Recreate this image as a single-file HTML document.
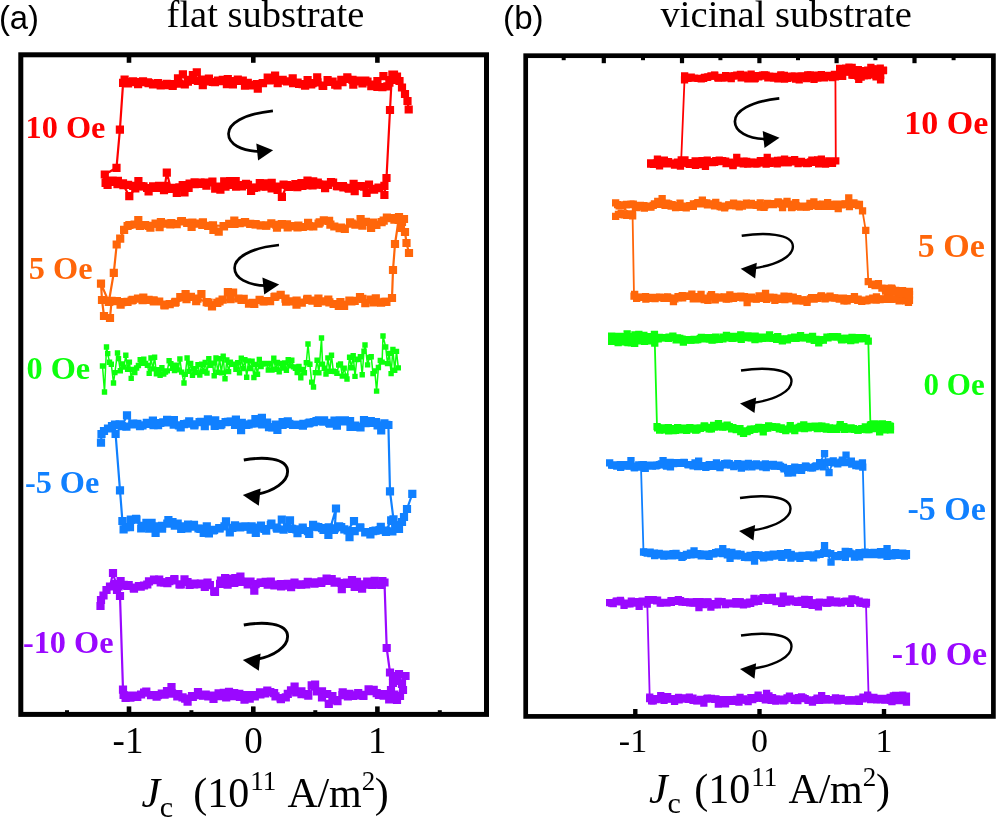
<!DOCTYPE html>
<html lang="en"><head><meta charset="utf-8"><title>Current-induced switching loops: flat vs vicinal substrate</title>
<style>html,body{margin:0;padding:0;background:#fff;}body{width:997px;height:820px;overflow:hidden;}svg{display:block;}text{font-family:"Liberation Serif",serif;fill:#000;}.sans{font-family:"Liberation Sans",sans-serif;}.lab{font-weight:bold;font-size:32.3px;}.labb{font-weight:bold;font-size:34px;}.tick{font-size:37px;}.ttl{font-size:38.5px;}.xl{font-size:42px;}</style></head><body>
<svg width="997" height="820" viewBox="0 0 997 820">
<rect x="0" y="0" width="997" height="820" fill="#fff"/>
<polyline points="408.7,109.5 407.5,101 405,94 402,87.5 399.5,81 397,76.5 394,74.5 392.4,74.7 387.4,86.4 382.4,87.2 377.4,86.8 372.5,84.5 367.5,81.7 362.5,83.5 357.5,81.5 352.5,79.8 347.5,78.8 342.5,82.2 337.5,85.5 332.6,81.5 327.6,80.2 322.6,85.6 317.6,82.4 312.6,83.1 307.6,80.1 302.6,84.2 297.6,82.6 292.7,78.3 287.7,81.3 282.7,79.9 277.7,83.1 272.7,80.2 267.7,77.7 262.7,83.2 257.8,88.7 252.8,84.9 247.8,82.9 242.8,80.5 237.8,79.6 232.8,81 227.8,79.1 222.8,79.8 217.9,80.6 212.9,82 207.9,81.4 202.9,79.7 197.9,81 192.9,75.2 187.9,81.6 182.9,74.4 178,78.4 173,84.2 168,85.2 163,85.1 158,83.1 153,84.5 148,82.4 143,81.4 138.1,84.2 133.1,81.3 128.1,83.3 123.1,82.8 119.9,129.6 116.5,167.8 104.8,174.5 106.5,180.5 107.6,184.8 112.7,180.7 117.9,180.9 123,183.3 128.1,184.9 133.2,185.8 138.4,181 143.5,186.4 148.6,191.5 153.7,188 158.9,188 164,190.2 169.1,188.8 174.2,187.8 179.4,187.4 184.5,192.3 189.6,183.7 194.7,184.1 199.9,183.9 205,182.5 210.1,182.5 215.2,188.6 220.4,189.6 225.5,186.7 230.6,185 235.7,181 240.9,185.2 246,183.9 251.1,190.9 256.3,187.5 261.4,186.3 266.5,183.3 271.6,188.5 276.8,186.6 281.9,196.8 287,185.2 292.1,185.8 297.3,187.1 302.4,186 307.5,180.7 312.6,185.3 317.8,182.5 322.9,184.6 328,184.9 333.1,182.6 338.3,186.1 343.4,187.3 348.5,187.8 353.6,183.9 358.8,186 363.9,186.7 369,184.5 374.1,189.6 379.3,188.1 384.4,195 386.5,178 390,110 391.6,80 389.4,82.7 383.4,76.2 377.4,81.1 371.3,86.2 365.3,80.7 359.3,80.5 353.3,84.7 347.3,77.3 341.3,79.8 335.2,84.6 329.2,81.9 323.2,85.8 317.2,77.4 311.2,84.5 305.1,85.6 299.1,84 293.1,83.1 287.1,81.5 281.1,80.6 275.1,75.5 269,80.3 263,83.1 257,84.1 251,85.5 245,85.6 238.9,81 232.9,84.4 226.9,84.1 220.9,81.2 214.9,82.2 208.9,78.6 202.8,85.1 196.8,72.4 190.8,79.8 184.8,84.3 178.8,83.6 172.7,86 166.7,83.9 160.7,85.5 154.7,83.5 148.7,83.2 142.7,82.1 136.6,82.2 130.6,82 124.6,79.5" fill="none" stroke="#ff0000" stroke-width="2.2" stroke-linejoin="round"/>
<path d="M404.6,105.4h8.2v8.2h-8.2zM403.4,96.9h8.2v8.2h-8.2zM400.9,89.9h8.2v8.2h-8.2zM397.9,83.4h8.2v8.2h-8.2zM395.4,76.9h8.2v8.2h-8.2zM392.9,72.4h8.2v8.2h-8.2zM389.9,70.4h8.2v8.2h-8.2zM388.3,70.6h8.2v8.2h-8.2zM383.3,82.3h8.2v8.2h-8.2zM378.3,83.1h8.2v8.2h-8.2zM373.3,82.7h8.2v8.2h-8.2zM368.4,80.4h8.2v8.2h-8.2zM363.4,77.6h8.2v8.2h-8.2zM358.4,79.4h8.2v8.2h-8.2zM353.4,77.4h8.2v8.2h-8.2zM348.4,75.7h8.2v8.2h-8.2zM343.4,74.7h8.2v8.2h-8.2zM338.4,78.1h8.2v8.2h-8.2zM333.4,81.4h8.2v8.2h-8.2zM328.5,77.4h8.2v8.2h-8.2zM323.5,76.1h8.2v8.2h-8.2zM318.5,81.5h8.2v8.2h-8.2zM313.5,78.3h8.2v8.2h-8.2zM308.5,79h8.2v8.2h-8.2zM303.5,76h8.2v8.2h-8.2zM298.5,80.1h8.2v8.2h-8.2zM293.5,78.5h8.2v8.2h-8.2zM288.6,74.2h8.2v8.2h-8.2zM283.6,77.2h8.2v8.2h-8.2zM278.6,75.8h8.2v8.2h-8.2zM273.6,79h8.2v8.2h-8.2zM268.6,76.1h8.2v8.2h-8.2zM263.6,73.6h8.2v8.2h-8.2zM258.6,79.1h8.2v8.2h-8.2zM253.7,84.6h8.2v8.2h-8.2zM248.7,80.8h8.2v8.2h-8.2zM243.7,78.8h8.2v8.2h-8.2zM238.7,76.4h8.2v8.2h-8.2zM233.7,75.5h8.2v8.2h-8.2zM228.7,76.9h8.2v8.2h-8.2zM223.7,75h8.2v8.2h-8.2zM218.7,75.7h8.2v8.2h-8.2zM213.8,76.5h8.2v8.2h-8.2zM208.8,77.9h8.2v8.2h-8.2zM203.8,77.3h8.2v8.2h-8.2zM198.8,75.6h8.2v8.2h-8.2zM193.8,76.9h8.2v8.2h-8.2zM188.8,71.1h8.2v8.2h-8.2zM183.8,77.5h8.2v8.2h-8.2zM178.8,70.3h8.2v8.2h-8.2zM173.9,74.3h8.2v8.2h-8.2zM168.9,80.1h8.2v8.2h-8.2zM163.9,81.1h8.2v8.2h-8.2zM158.9,81h8.2v8.2h-8.2zM153.9,79h8.2v8.2h-8.2zM148.9,80.4h8.2v8.2h-8.2zM143.9,78.3h8.2v8.2h-8.2zM138.9,77.3h8.2v8.2h-8.2zM134,80.1h8.2v8.2h-8.2zM129,77.2h8.2v8.2h-8.2zM124,79.2h8.2v8.2h-8.2zM119,78.7h8.2v8.2h-8.2zM115.8,125.5h8.2v8.2h-8.2zM112.4,163.7h8.2v8.2h-8.2zM100.7,170.4h8.2v8.2h-8.2zM102.4,176.4h8.2v8.2h-8.2zM103.5,180.7h8.2v8.2h-8.2zM108.6,176.6h8.2v8.2h-8.2zM113.8,176.8h8.2v8.2h-8.2zM118.9,179.2h8.2v8.2h-8.2zM124,180.8h8.2v8.2h-8.2zM129.1,181.7h8.2v8.2h-8.2zM134.3,176.9h8.2v8.2h-8.2zM139.4,182.3h8.2v8.2h-8.2zM144.5,187.4h8.2v8.2h-8.2zM149.6,183.9h8.2v8.2h-8.2zM154.8,183.9h8.2v8.2h-8.2zM159.9,186.1h8.2v8.2h-8.2zM165,184.7h8.2v8.2h-8.2zM170.1,183.7h8.2v8.2h-8.2zM175.3,183.3h8.2v8.2h-8.2zM180.4,188.2h8.2v8.2h-8.2zM185.5,179.6h8.2v8.2h-8.2zM190.6,180h8.2v8.2h-8.2zM195.8,179.8h8.2v8.2h-8.2zM200.9,178.4h8.2v8.2h-8.2zM206,178.4h8.2v8.2h-8.2zM211.1,184.5h8.2v8.2h-8.2zM216.3,185.5h8.2v8.2h-8.2zM221.4,182.6h8.2v8.2h-8.2zM226.5,180.9h8.2v8.2h-8.2zM231.6,176.9h8.2v8.2h-8.2zM236.8,181.1h8.2v8.2h-8.2zM241.9,179.8h8.2v8.2h-8.2zM247,186.8h8.2v8.2h-8.2zM252.2,183.4h8.2v8.2h-8.2zM257.3,182.2h8.2v8.2h-8.2zM262.4,179.2h8.2v8.2h-8.2zM267.5,184.4h8.2v8.2h-8.2zM272.7,182.5h8.2v8.2h-8.2zM277.8,192.7h8.2v8.2h-8.2zM282.9,181.1h8.2v8.2h-8.2zM288,181.7h8.2v8.2h-8.2zM293.2,183h8.2v8.2h-8.2zM298.3,181.9h8.2v8.2h-8.2zM303.4,176.6h8.2v8.2h-8.2zM308.5,181.2h8.2v8.2h-8.2zM313.7,178.4h8.2v8.2h-8.2zM318.8,180.5h8.2v8.2h-8.2zM323.9,180.8h8.2v8.2h-8.2zM329,178.5h8.2v8.2h-8.2zM334.2,182h8.2v8.2h-8.2zM339.3,183.2h8.2v8.2h-8.2zM344.4,183.7h8.2v8.2h-8.2zM349.5,179.8h8.2v8.2h-8.2zM354.7,181.9h8.2v8.2h-8.2zM359.8,182.6h8.2v8.2h-8.2zM364.9,180.4h8.2v8.2h-8.2zM370,185.5h8.2v8.2h-8.2zM375.2,184h8.2v8.2h-8.2zM380.3,190.9h8.2v8.2h-8.2zM382.4,173.9h8.2v8.2h-8.2zM385.9,105.9h8.2v8.2h-8.2zM387.5,75.9h8.2v8.2h-8.2zM385.3,78.6h8.2v8.2h-8.2zM379.3,72.1h8.2v8.2h-8.2zM373.3,77h8.2v8.2h-8.2zM367.2,82.1h8.2v8.2h-8.2zM361.2,76.6h8.2v8.2h-8.2zM355.2,76.4h8.2v8.2h-8.2zM349.2,80.6h8.2v8.2h-8.2zM343.2,73.2h8.2v8.2h-8.2zM337.2,75.7h8.2v8.2h-8.2zM331.1,80.5h8.2v8.2h-8.2zM325.1,77.8h8.2v8.2h-8.2zM319.1,81.7h8.2v8.2h-8.2zM313.1,73.3h8.2v8.2h-8.2zM307.1,80.4h8.2v8.2h-8.2zM301,81.5h8.2v8.2h-8.2zM295,79.9h8.2v8.2h-8.2zM289,79h8.2v8.2h-8.2zM283,77.4h8.2v8.2h-8.2zM277,76.5h8.2v8.2h-8.2zM271,71.4h8.2v8.2h-8.2zM264.9,76.2h8.2v8.2h-8.2zM258.9,79h8.2v8.2h-8.2zM252.9,80h8.2v8.2h-8.2zM246.9,81.4h8.2v8.2h-8.2zM240.9,81.5h8.2v8.2h-8.2zM234.8,76.9h8.2v8.2h-8.2zM228.8,80.3h8.2v8.2h-8.2zM222.8,80h8.2v8.2h-8.2zM216.8,77.1h8.2v8.2h-8.2zM210.8,78.1h8.2v8.2h-8.2zM204.8,74.5h8.2v8.2h-8.2zM198.7,81h8.2v8.2h-8.2zM192.7,68.3h8.2v8.2h-8.2zM186.7,75.7h8.2v8.2h-8.2zM180.7,80.2h8.2v8.2h-8.2zM174.7,79.5h8.2v8.2h-8.2zM168.6,81.9h8.2v8.2h-8.2zM162.6,79.8h8.2v8.2h-8.2zM156.6,81.4h8.2v8.2h-8.2zM150.6,79.4h8.2v8.2h-8.2zM144.6,79.1h8.2v8.2h-8.2zM138.6,78h8.2v8.2h-8.2zM132.5,78.1h8.2v8.2h-8.2zM126.5,77.9h8.2v8.2h-8.2zM120.5,75.4h8.2v8.2h-8.2z" fill="#ff0000"/>
<polyline points="384.4,185.9 378.5,187.7 372.5,188.9 366.6,192.9 360.7,186 354.7,191.2 348.8,188.7 342.9,186.1 336.9,186.1 331,182 325.1,188.1 319.1,184.6 313.2,181.3 307.3,185.1 301.4,183.1 295.4,184.2 289.5,187 283.6,184.7 277.6,189.8 271.7,182.8 265.8,186.7 259.8,183.2 253.9,187.9 248,184.9 242,186.4 236.1,186.6 230.2,181.1 224.2,181.4 218.3,186.6 212.4,181.5 206.4,185.6 200.5,182.5 194.6,182.4 188.6,188 182.7,185.1 176.8,192.9 170.9,188.8 166.8,172.6 164.9,185.9 159,185.9 153.1,186.4 147.1,188 141.2,186.1 135.3,188.4 129.3,196.1 123.4,185.2 117.5,184.1 111.5,181.8 105.6,183" fill="none" stroke="#ff0000" stroke-width="2.2" stroke-linejoin="round"/>
<path d="M380.3,181.8h8.2v8.2h-8.2zM374.4,183.6h8.2v8.2h-8.2zM368.4,184.8h8.2v8.2h-8.2zM362.5,188.8h8.2v8.2h-8.2zM356.6,181.9h8.2v8.2h-8.2zM350.6,187.1h8.2v8.2h-8.2zM344.7,184.6h8.2v8.2h-8.2zM338.8,182h8.2v8.2h-8.2zM332.8,182h8.2v8.2h-8.2zM326.9,177.9h8.2v8.2h-8.2zM321,184h8.2v8.2h-8.2zM315,180.5h8.2v8.2h-8.2zM309.1,177.2h8.2v8.2h-8.2zM303.2,181h8.2v8.2h-8.2zM297.3,179h8.2v8.2h-8.2zM291.3,180.1h8.2v8.2h-8.2zM285.4,182.9h8.2v8.2h-8.2zM279.5,180.6h8.2v8.2h-8.2zM273.5,185.7h8.2v8.2h-8.2zM267.6,178.7h8.2v8.2h-8.2zM261.7,182.6h8.2v8.2h-8.2zM255.7,179.1h8.2v8.2h-8.2zM249.8,183.8h8.2v8.2h-8.2zM243.9,180.8h8.2v8.2h-8.2zM237.9,182.3h8.2v8.2h-8.2zM232,182.5h8.2v8.2h-8.2zM226.1,177h8.2v8.2h-8.2zM220.1,177.3h8.2v8.2h-8.2zM214.2,182.5h8.2v8.2h-8.2zM208.3,177.4h8.2v8.2h-8.2zM202.3,181.5h8.2v8.2h-8.2zM196.4,178.4h8.2v8.2h-8.2zM190.5,178.3h8.2v8.2h-8.2zM184.5,183.9h8.2v8.2h-8.2zM178.6,181h8.2v8.2h-8.2zM172.7,188.8h8.2v8.2h-8.2zM166.8,184.7h8.2v8.2h-8.2zM162.7,168.5h8.2v8.2h-8.2zM160.8,181.8h8.2v8.2h-8.2zM154.9,181.8h8.2v8.2h-8.2zM149,182.3h8.2v8.2h-8.2zM143,183.9h8.2v8.2h-8.2zM137.1,182h8.2v8.2h-8.2zM131.2,184.3h8.2v8.2h-8.2zM125.2,192h8.2v8.2h-8.2zM119.3,181.1h8.2v8.2h-8.2zM113.4,180h8.2v8.2h-8.2zM107.4,177.7h8.2v8.2h-8.2zM101.5,178.9h8.2v8.2h-8.2z" fill="#ff0000"/>
<polyline points="409,253 406.5,243 405,232 402,222 399,217 397.4,218.2 392.1,218.1 386.9,217.6 381.6,222.1 376.4,225 371.1,228 365.9,221.8 360.6,219.2 355.4,224.7 350.1,222.3 344.8,228.8 339.6,228.2 334.3,226.5 329.1,220.9 323.8,220.4 318.6,223.7 313.3,226.3 308.1,222.8 302.8,227 297.5,227.4 292.3,226.1 287,224.3 281.8,224.1 276.5,224.8 271.3,223.4 266,225.7 260.8,225.4 255.5,224.2 250.2,223.9 245,222.3 239.7,223.1 234.5,223.8 229.2,223.8 224,226.3 218.7,231.7 213.4,229.8 208.2,225.9 202.9,222.3 197.7,223.7 192.4,222.6 187.2,222.8 181.9,221 176.7,224.2 171.4,223 166.1,223.6 160.9,222 155.6,223.6 150.4,227.7 145.1,225.1 139.9,225.9 134.6,224.5 129.4,225 124.1,229.8 120.2,238.7 116.7,244.5 113.8,272.8 108.8,302 101,283.6 102,300 104,316 110,318 111.6,300.9 116.9,301.1 122.2,302.1 127.5,301.9 132.7,299.9 138,298.6 143.3,297.7 148.6,299.8 153.9,301.3 159.2,301.5 164.4,304.7 169.7,304.2 175,302.7 180.3,297 185.6,294.1 190.9,296.8 196.2,301.2 201.4,294.2 206.7,302.2 212,306.4 217.3,302.8 222.6,299.6 227.9,292.1 233.1,292.5 238.4,298.5 243.7,298.9 249,303.6 254.3,303.8 259.6,299.8 264.9,301.1 270.1,301.1 275.4,296.5 280.7,294.9 286,301.7 291.3,301.3 296.6,300.6 301.8,302.6 307.1,299.9 312.4,300.6 317.7,303 323,301.4 328.3,299.5 333.6,304 338.8,305.9 344.1,305.8 349.4,300.5 354.7,300.9 360,297.1 365.3,303.1 370.5,299.7 375.8,298.3 381.1,302.7 386.4,301.9 392,298 393,270 395,244 398.6,220 401,228 404,219" fill="none" stroke="#ff660a" stroke-width="2.2" stroke-linejoin="round"/>
<path d="M404.9,248.9h8.2v8.2h-8.2zM402.4,238.9h8.2v8.2h-8.2zM400.9,227.9h8.2v8.2h-8.2zM397.9,217.9h8.2v8.2h-8.2zM394.9,212.9h8.2v8.2h-8.2zM393.3,214.1h8.2v8.2h-8.2zM388,214h8.2v8.2h-8.2zM382.8,213.5h8.2v8.2h-8.2zM377.5,218h8.2v8.2h-8.2zM372.3,220.9h8.2v8.2h-8.2zM367,223.9h8.2v8.2h-8.2zM361.8,217.7h8.2v8.2h-8.2zM356.5,215.1h8.2v8.2h-8.2zM351.3,220.6h8.2v8.2h-8.2zM346,218.2h8.2v8.2h-8.2zM340.7,224.7h8.2v8.2h-8.2zM335.5,224.1h8.2v8.2h-8.2zM330.2,222.4h8.2v8.2h-8.2zM325,216.8h8.2v8.2h-8.2zM319.7,216.3h8.2v8.2h-8.2zM314.5,219.6h8.2v8.2h-8.2zM309.2,222.2h8.2v8.2h-8.2zM304,218.7h8.2v8.2h-8.2zM298.7,222.9h8.2v8.2h-8.2zM293.4,223.3h8.2v8.2h-8.2zM288.2,222h8.2v8.2h-8.2zM282.9,220.2h8.2v8.2h-8.2zM277.7,220h8.2v8.2h-8.2zM272.4,220.7h8.2v8.2h-8.2zM267.2,219.3h8.2v8.2h-8.2zM261.9,221.6h8.2v8.2h-8.2zM256.6,221.3h8.2v8.2h-8.2zM251.4,220.1h8.2v8.2h-8.2zM246.1,219.8h8.2v8.2h-8.2zM240.9,218.2h8.2v8.2h-8.2zM235.6,219h8.2v8.2h-8.2zM230.4,219.7h8.2v8.2h-8.2zM225.1,219.7h8.2v8.2h-8.2zM219.9,222.2h8.2v8.2h-8.2zM214.6,227.6h8.2v8.2h-8.2zM209.3,225.7h8.2v8.2h-8.2zM204.1,221.8h8.2v8.2h-8.2zM198.8,218.2h8.2v8.2h-8.2zM193.6,219.6h8.2v8.2h-8.2zM188.3,218.5h8.2v8.2h-8.2zM183.1,218.7h8.2v8.2h-8.2zM177.8,216.9h8.2v8.2h-8.2zM172.6,220.1h8.2v8.2h-8.2zM167.3,218.9h8.2v8.2h-8.2zM162,219.5h8.2v8.2h-8.2zM156.8,217.9h8.2v8.2h-8.2zM151.5,219.5h8.2v8.2h-8.2zM146.3,223.6h8.2v8.2h-8.2zM141,221h8.2v8.2h-8.2zM135.8,221.8h8.2v8.2h-8.2zM130.5,220.4h8.2v8.2h-8.2zM125.3,220.9h8.2v8.2h-8.2zM120,225.7h8.2v8.2h-8.2zM116.1,234.6h8.2v8.2h-8.2zM112.6,240.4h8.2v8.2h-8.2zM109.7,268.7h8.2v8.2h-8.2zM104.7,297.9h8.2v8.2h-8.2zM96.9,279.5h8.2v8.2h-8.2zM97.9,295.9h8.2v8.2h-8.2zM99.9,311.9h8.2v8.2h-8.2zM105.9,313.9h8.2v8.2h-8.2zM107.5,296.8h8.2v8.2h-8.2zM112.8,297h8.2v8.2h-8.2zM118.1,298h8.2v8.2h-8.2zM123.4,297.8h8.2v8.2h-8.2zM128.6,295.8h8.2v8.2h-8.2zM133.9,294.5h8.2v8.2h-8.2zM139.2,293.6h8.2v8.2h-8.2zM144.5,295.7h8.2v8.2h-8.2zM149.8,297.2h8.2v8.2h-8.2zM155.1,297.4h8.2v8.2h-8.2zM160.3,300.6h8.2v8.2h-8.2zM165.6,300.1h8.2v8.2h-8.2zM170.9,298.6h8.2v8.2h-8.2zM176.2,292.9h8.2v8.2h-8.2zM181.5,290h8.2v8.2h-8.2zM186.8,292.7h8.2v8.2h-8.2zM192.1,297.1h8.2v8.2h-8.2zM197.3,290.1h8.2v8.2h-8.2zM202.6,298.1h8.2v8.2h-8.2zM207.9,302.3h8.2v8.2h-8.2zM213.2,298.7h8.2v8.2h-8.2zM218.5,295.5h8.2v8.2h-8.2zM223.8,288h8.2v8.2h-8.2zM229,288.4h8.2v8.2h-8.2zM234.3,294.4h8.2v8.2h-8.2zM239.6,294.8h8.2v8.2h-8.2zM244.9,299.5h8.2v8.2h-8.2zM250.2,299.7h8.2v8.2h-8.2zM255.5,295.7h8.2v8.2h-8.2zM260.8,297h8.2v8.2h-8.2zM266,297h8.2v8.2h-8.2zM271.3,292.4h8.2v8.2h-8.2zM276.6,290.8h8.2v8.2h-8.2zM281.9,297.6h8.2v8.2h-8.2zM287.2,297.2h8.2v8.2h-8.2zM292.5,296.5h8.2v8.2h-8.2zM297.7,298.5h8.2v8.2h-8.2zM303,295.8h8.2v8.2h-8.2zM308.3,296.5h8.2v8.2h-8.2zM313.6,298.9h8.2v8.2h-8.2zM318.9,297.3h8.2v8.2h-8.2zM324.2,295.4h8.2v8.2h-8.2zM329.5,299.9h8.2v8.2h-8.2zM334.7,301.8h8.2v8.2h-8.2zM340,301.7h8.2v8.2h-8.2zM345.3,296.4h8.2v8.2h-8.2zM350.6,296.8h8.2v8.2h-8.2zM355.9,293h8.2v8.2h-8.2zM361.2,299h8.2v8.2h-8.2zM366.4,295.6h8.2v8.2h-8.2zM371.7,294.2h8.2v8.2h-8.2zM377,298.6h8.2v8.2h-8.2zM382.3,297.8h8.2v8.2h-8.2zM387.9,293.9h8.2v8.2h-8.2zM388.9,265.9h8.2v8.2h-8.2zM390.9,239.9h8.2v8.2h-8.2zM394.5,215.9h8.2v8.2h-8.2zM396.9,223.9h8.2v8.2h-8.2zM399.9,214.9h8.2v8.2h-8.2z" fill="#ff660a"/>
<polyline points="394.4,219.7 383.7,220.6 373.1,222.5 362.4,225.7 351.7,223.6 341,227.5 330.4,224.7 319.7,222.4 309,226.2 298.4,225.7 287.7,227.4 277,227.7 266.3,225.5 255.7,224.5 245,222.2 234.3,220.6 223.6,226 213,225.3 202.3,224.9 191.6,226.9 181,221.4 170.3,224.4 159.6,227.1 148.9,225.9 138.3,220.2 127.6,226" fill="none" stroke="#ff660a" stroke-width="2.2" stroke-linejoin="round"/>
<path d="M390.3,215.6h8.2v8.2h-8.2zM379.6,216.5h8.2v8.2h-8.2zM369,218.4h8.2v8.2h-8.2zM358.3,221.6h8.2v8.2h-8.2zM347.6,219.5h8.2v8.2h-8.2zM336.9,223.4h8.2v8.2h-8.2zM326.3,220.6h8.2v8.2h-8.2zM315.6,218.3h8.2v8.2h-8.2zM304.9,222.1h8.2v8.2h-8.2zM294.3,221.6h8.2v8.2h-8.2zM283.6,223.3h8.2v8.2h-8.2zM272.9,223.6h8.2v8.2h-8.2zM262.2,221.4h8.2v8.2h-8.2zM251.6,220.4h8.2v8.2h-8.2zM240.9,218.1h8.2v8.2h-8.2zM230.2,216.5h8.2v8.2h-8.2zM219.5,221.9h8.2v8.2h-8.2zM208.9,221.2h8.2v8.2h-8.2zM198.2,220.8h8.2v8.2h-8.2zM187.5,222.8h8.2v8.2h-8.2zM176.9,217.3h8.2v8.2h-8.2zM166.2,220.3h8.2v8.2h-8.2zM155.5,223h8.2v8.2h-8.2zM144.8,221.8h8.2v8.2h-8.2zM134.2,216.1h8.2v8.2h-8.2zM123.5,221.9h8.2v8.2h-8.2z" fill="#ff660a"/>
<polyline points="384.4,301.8 373.4,302.3 362.4,298.9 351.4,301.4 340.4,302.2 329.4,302.3 318.4,298.5 307.5,298.8 296.5,304.6 285.5,298.6 274.5,297 263.5,301.4 252.5,302.8 241.5,300 230.5,299.2 219.5,301.5 208.5,302.6 197.5,298.7 186.5,299.2 175.6,301.9 164.6,305.3 153.6,300.4 142.6,300.2 131.6,300.5 120.6,304.7 109.6,301.4" fill="none" stroke="#ff660a" stroke-width="2.2" stroke-linejoin="round"/>
<path d="M380.3,297.7h8.2v8.2h-8.2zM369.3,298.2h8.2v8.2h-8.2zM358.3,294.8h8.2v8.2h-8.2zM347.3,297.3h8.2v8.2h-8.2zM336.3,298.1h8.2v8.2h-8.2zM325.3,298.2h8.2v8.2h-8.2zM314.3,294.4h8.2v8.2h-8.2zM303.4,294.7h8.2v8.2h-8.2zM292.4,300.5h8.2v8.2h-8.2zM281.4,294.5h8.2v8.2h-8.2zM270.4,292.9h8.2v8.2h-8.2zM259.4,297.3h8.2v8.2h-8.2zM248.4,298.7h8.2v8.2h-8.2zM237.4,295.9h8.2v8.2h-8.2zM226.4,295.1h8.2v8.2h-8.2zM215.4,297.4h8.2v8.2h-8.2zM204.4,298.5h8.2v8.2h-8.2zM193.4,294.6h8.2v8.2h-8.2zM182.4,295.1h8.2v8.2h-8.2zM171.5,297.8h8.2v8.2h-8.2zM160.5,301.2h8.2v8.2h-8.2zM149.5,296.3h8.2v8.2h-8.2zM138.5,296.1h8.2v8.2h-8.2zM127.5,296.4h8.2v8.2h-8.2zM116.5,300.6h8.2v8.2h-8.2zM105.5,297.3h8.2v8.2h-8.2z" fill="#ff660a"/>
<polyline points="102.5,366 104.5,392 106.5,347 107.7,353.6 109.5,362.2 111.3,364.3 113.5,383 114.9,372.6 117.5,353 118.5,358.6 120.3,370.7 122.2,363.9 124,367.1 125.8,355.2 127.6,369.4 129.4,362.1 131.2,378.4 133,369.4 134.8,372.5 136.6,368 138.4,365.5 140.2,359.6 142,363.3 143.8,359.2 145.6,363.4 147.4,365.4 149.2,373.4 151,358 152.8,368.9 154.6,357.2 156.4,373.7 158.3,369.8 160.1,375.4 161.9,367.6 163.7,374 165.5,372.1 167.3,370.9 169.1,360.8 170.9,363.6 172.7,368.3 174.5,370.6 176.3,365.1 178.1,369.9 179.9,359 181.7,372.1 184,383 185.3,374.4 187.1,358 188.9,371.4 190.7,363.4 192.5,375.2 194.3,368.6 196.2,372.6 198,364.6 199.8,375.1 201.6,364.2 203.4,371.5 205.2,362.5 207,373.1 208.8,358.6 210.6,365.3 212.4,363.1 214.2,375.8 216,357.9 217.8,372.2 219.6,358.8 221.4,372.9 223.2,356.3 225,378.7 226.8,360 228.6,371.6 230.4,362.2 232.3,364.3 234.1,364.3 235.9,369.3 237.7,362.8 239.5,372.7 241.3,358.1 243.1,368.5 244.9,359.7 246.7,377.2 248.5,360.9 250.3,368.6 252.1,361.1 253.9,377.5 255.7,364.4 257.5,374.3 259.3,359.5 261.1,366.5 262.9,364.1 264.7,363.5 266.5,363.8 268.3,370 270.2,363.5 272,370.1 273.8,358.2 275.6,369.3 277.4,362.4 279.2,371.7 281,363.5 282.8,368.1 284.6,362.9 286.4,370.4 288.2,359.8 290,365.9 291.8,360.2 293.6,366.9 295.4,368.2 297.2,372.5 299,366.4 300.8,377.9 302.6,369.5 304.4,372.8 306.3,362.8 308,344 309.9,364.2 311.7,382.1 313.5,387 315.3,372.6 317.1,360.2 318.9,372.9 321.5,338 322.5,364.1 324.3,368.2 326,374 327.9,357.9 329.7,371.3 331.5,355.2 333.3,371.3 335.1,371.6 336.9,373.3 338.7,365.1 340.5,363.9 342.3,376.1 344.2,368.1 346,376.1 347,379 349.6,357.2 351.4,367.7 353.2,355.6 355,376.4 356.8,359.5 358.6,359.2 360.4,356.7 362.2,374.7 364,351.3 365,345 367.6,364.9 369.4,357.4 371.2,356.7 373,373.6 374.8,371 376.6,391.1 378.4,367.5 380.3,360.4 382.1,362.1 383,336 385.7,347 387.5,363.6 389.3,353.4 391.1,373.6 392.9,349.5 394.7,370.3 396.5,351.4 398.3,367.9" fill="none" stroke="#0cff0c" stroke-width="1.5" stroke-linejoin="round"/>
<path d="M99.8,363.3h5.4v5.4h-5.4zM101.8,389.3h5.4v5.4h-5.4zM103.8,344.3h5.4v5.4h-5.4zM105,350.9h5.4v5.4h-5.4zM106.8,359.5h5.4v5.4h-5.4zM108.6,361.6h5.4v5.4h-5.4zM110.8,380.3h5.4v5.4h-5.4zM112.2,369.9h5.4v5.4h-5.4zM114.8,350.3h5.4v5.4h-5.4zM115.8,355.9h5.4v5.4h-5.4zM117.6,368h5.4v5.4h-5.4zM119.5,361.2h5.4v5.4h-5.4zM121.3,364.4h5.4v5.4h-5.4zM123.1,352.5h5.4v5.4h-5.4zM124.9,366.7h5.4v5.4h-5.4zM126.7,359.4h5.4v5.4h-5.4zM128.5,375.7h5.4v5.4h-5.4zM130.3,366.7h5.4v5.4h-5.4zM132.1,369.8h5.4v5.4h-5.4zM133.9,365.3h5.4v5.4h-5.4zM135.7,362.8h5.4v5.4h-5.4zM137.5,356.9h5.4v5.4h-5.4zM139.3,360.6h5.4v5.4h-5.4zM141.1,356.5h5.4v5.4h-5.4zM142.9,360.7h5.4v5.4h-5.4zM144.7,362.7h5.4v5.4h-5.4zM146.5,370.7h5.4v5.4h-5.4zM148.3,355.3h5.4v5.4h-5.4zM150.1,366.2h5.4v5.4h-5.4zM151.9,354.5h5.4v5.4h-5.4zM153.7,371h5.4v5.4h-5.4zM155.6,367.1h5.4v5.4h-5.4zM157.4,372.7h5.4v5.4h-5.4zM159.2,364.9h5.4v5.4h-5.4zM161,371.3h5.4v5.4h-5.4zM162.8,369.4h5.4v5.4h-5.4zM164.6,368.2h5.4v5.4h-5.4zM166.4,358.1h5.4v5.4h-5.4zM168.2,360.9h5.4v5.4h-5.4zM170,365.6h5.4v5.4h-5.4zM171.8,367.9h5.4v5.4h-5.4zM173.6,362.4h5.4v5.4h-5.4zM175.4,367.2h5.4v5.4h-5.4zM177.2,356.3h5.4v5.4h-5.4zM179,369.4h5.4v5.4h-5.4zM181.3,380.3h5.4v5.4h-5.4zM182.6,371.7h5.4v5.4h-5.4zM184.4,355.3h5.4v5.4h-5.4zM186.2,368.7h5.4v5.4h-5.4zM188,360.7h5.4v5.4h-5.4zM189.8,372.5h5.4v5.4h-5.4zM191.6,365.9h5.4v5.4h-5.4zM193.5,369.9h5.4v5.4h-5.4zM195.3,361.9h5.4v5.4h-5.4zM197.1,372.4h5.4v5.4h-5.4zM198.9,361.5h5.4v5.4h-5.4zM200.7,368.8h5.4v5.4h-5.4zM202.5,359.8h5.4v5.4h-5.4zM204.3,370.4h5.4v5.4h-5.4zM206.1,355.9h5.4v5.4h-5.4zM207.9,362.6h5.4v5.4h-5.4zM209.7,360.4h5.4v5.4h-5.4zM211.5,373.1h5.4v5.4h-5.4zM213.3,355.2h5.4v5.4h-5.4zM215.1,369.5h5.4v5.4h-5.4zM216.9,356.1h5.4v5.4h-5.4zM218.7,370.2h5.4v5.4h-5.4zM220.5,353.6h5.4v5.4h-5.4zM222.3,376h5.4v5.4h-5.4zM224.1,357.3h5.4v5.4h-5.4zM225.9,368.9h5.4v5.4h-5.4zM227.7,359.5h5.4v5.4h-5.4zM229.6,361.6h5.4v5.4h-5.4zM231.4,361.6h5.4v5.4h-5.4zM233.2,366.6h5.4v5.4h-5.4zM235,360.1h5.4v5.4h-5.4zM236.8,370h5.4v5.4h-5.4zM238.6,355.4h5.4v5.4h-5.4zM240.4,365.8h5.4v5.4h-5.4zM242.2,357h5.4v5.4h-5.4zM244,374.5h5.4v5.4h-5.4zM245.8,358.2h5.4v5.4h-5.4zM247.6,365.9h5.4v5.4h-5.4zM249.4,358.4h5.4v5.4h-5.4zM251.2,374.8h5.4v5.4h-5.4zM253,361.7h5.4v5.4h-5.4zM254.8,371.6h5.4v5.4h-5.4zM256.6,356.8h5.4v5.4h-5.4zM258.4,363.8h5.4v5.4h-5.4zM260.2,361.4h5.4v5.4h-5.4zM262,360.8h5.4v5.4h-5.4zM263.8,361.1h5.4v5.4h-5.4zM265.6,367.3h5.4v5.4h-5.4zM267.5,360.8h5.4v5.4h-5.4zM269.3,367.4h5.4v5.4h-5.4zM271.1,355.5h5.4v5.4h-5.4zM272.9,366.6h5.4v5.4h-5.4zM274.7,359.7h5.4v5.4h-5.4zM276.5,369h5.4v5.4h-5.4zM278.3,360.8h5.4v5.4h-5.4zM280.1,365.4h5.4v5.4h-5.4zM281.9,360.2h5.4v5.4h-5.4zM283.7,367.7h5.4v5.4h-5.4zM285.5,357.1h5.4v5.4h-5.4zM287.3,363.2h5.4v5.4h-5.4zM289.1,357.5h5.4v5.4h-5.4zM290.9,364.2h5.4v5.4h-5.4zM292.7,365.5h5.4v5.4h-5.4zM294.5,369.8h5.4v5.4h-5.4zM296.3,363.7h5.4v5.4h-5.4zM298.1,375.2h5.4v5.4h-5.4zM299.9,366.8h5.4v5.4h-5.4zM301.7,370.1h5.4v5.4h-5.4zM303.6,360.1h5.4v5.4h-5.4zM305.3,341.3h5.4v5.4h-5.4zM307.2,361.5h5.4v5.4h-5.4zM309,379.4h5.4v5.4h-5.4zM310.8,384.3h5.4v5.4h-5.4zM312.6,369.9h5.4v5.4h-5.4zM314.4,357.5h5.4v5.4h-5.4zM316.2,370.2h5.4v5.4h-5.4zM318.8,335.3h5.4v5.4h-5.4zM319.8,361.4h5.4v5.4h-5.4zM321.6,365.5h5.4v5.4h-5.4zM323.3,371.3h5.4v5.4h-5.4zM325.2,355.2h5.4v5.4h-5.4zM327,368.6h5.4v5.4h-5.4zM328.8,352.5h5.4v5.4h-5.4zM330.6,368.6h5.4v5.4h-5.4zM332.4,368.9h5.4v5.4h-5.4zM334.2,370.6h5.4v5.4h-5.4zM336,362.4h5.4v5.4h-5.4zM337.8,361.2h5.4v5.4h-5.4zM339.6,373.4h5.4v5.4h-5.4zM341.5,365.4h5.4v5.4h-5.4zM343.3,373.4h5.4v5.4h-5.4zM344.3,376.3h5.4v5.4h-5.4zM346.9,354.5h5.4v5.4h-5.4zM348.7,365h5.4v5.4h-5.4zM350.5,352.9h5.4v5.4h-5.4zM352.3,373.7h5.4v5.4h-5.4zM354.1,356.8h5.4v5.4h-5.4zM355.9,356.5h5.4v5.4h-5.4zM357.7,354h5.4v5.4h-5.4zM359.5,372h5.4v5.4h-5.4zM361.3,348.6h5.4v5.4h-5.4zM362.3,342.3h5.4v5.4h-5.4zM364.9,362.2h5.4v5.4h-5.4zM366.7,354.7h5.4v5.4h-5.4zM368.5,354h5.4v5.4h-5.4zM370.3,370.9h5.4v5.4h-5.4zM372.1,368.3h5.4v5.4h-5.4zM373.9,388.4h5.4v5.4h-5.4zM375.7,364.8h5.4v5.4h-5.4zM377.6,357.7h5.4v5.4h-5.4zM379.4,359.4h5.4v5.4h-5.4zM380.3,333.3h5.4v5.4h-5.4zM383,344.3h5.4v5.4h-5.4zM384.8,360.9h5.4v5.4h-5.4zM386.6,350.7h5.4v5.4h-5.4zM388.4,370.9h5.4v5.4h-5.4zM390.2,346.8h5.4v5.4h-5.4zM392,367.6h5.4v5.4h-5.4zM393.8,348.7h5.4v5.4h-5.4zM395.6,365.2h5.4v5.4h-5.4z" fill="#0cff0c"/>
<polyline points="101,442.6 101.5,434 104,431 108,428.5 112,426 115,424.5 116.6,425.1 121.8,426.2 127,415.4 132.2,424.3 137.4,423.8 142.5,425.3 147.7,423.8 152.9,420.6 158.1,425.1 163.3,422.4 168.5,422.4 173.7,424.7 178.9,425.3 184,424.2 189.2,421.4 194.4,424.3 199.6,422.2 204.8,426.2 210,421.3 215.2,420.4 220.4,425.2 225.6,422.1 230.7,421.5 235.9,419.7 241.1,430.1 246.3,424.9 251.5,423.6 256.7,423.5 261.9,417.8 267.1,422.6 272.3,427.5 277.4,430 282.6,422.2 287.8,421.4 293,424.9 298.2,424.9 303.4,423.8 308.6,423.4 313.8,422.2 318.9,420.4 324.1,420.4 329.3,422.8 334.5,420.6 339.7,420.3 344.9,420.3 350.1,421 355.3,425.5 360.5,427.4 365.6,423.1 370.8,423 376,422.1 381.2,430.4 386.4,424.9 388.4,425 390,491.4 393.5,519.4 396.4,528.1 391.2,520.4 386,530.6 380.8,526.8 375.6,530.6 370.4,534.5 365.2,532.3 359.9,527.5 354.7,531.2 349.5,537.2 344.3,529.4 339.1,526.3 333.9,529.8 328.7,527.4 323.5,530 318.3,527.2 313.1,524.8 307.9,531.1 302.7,527.6 297.5,533.2 292.2,528.9 287,527.6 281.8,519.7 276.6,527.5 271.4,523.6 266.2,530.6 261,525.5 255.8,533 250.6,529.7 245.4,526.5 240.2,527.4 235,525.4 229.8,532.5 224.5,526.4 219.3,528.2 214.1,529.9 208.9,533.5 203.7,532.8 198.5,528.5 193.3,526.6 188.1,524.5 182.9,526.4 177.7,523.5 172.5,522.2 167.3,523.7 162.1,528.7 156.8,526.4 151.6,522.9 146.4,522.8 141.2,528.5 136,518.9 130.8,519.6 125.6,527.1 122.4,521 120,490.4 115.6,434 112,428" fill="none" stroke="#1080ff" stroke-width="2.2" stroke-linejoin="round"/>
<path d="M96.9,438.5h8.2v8.2h-8.2zM97.4,429.9h8.2v8.2h-8.2zM99.9,426.9h8.2v8.2h-8.2zM103.9,424.4h8.2v8.2h-8.2zM107.9,421.9h8.2v8.2h-8.2zM110.9,420.4h8.2v8.2h-8.2zM112.5,421h8.2v8.2h-8.2zM117.7,422.1h8.2v8.2h-8.2zM122.9,411.3h8.2v8.2h-8.2zM128.1,420.2h8.2v8.2h-8.2zM133.3,419.7h8.2v8.2h-8.2zM138.4,421.2h8.2v8.2h-8.2zM143.6,419.7h8.2v8.2h-8.2zM148.8,416.5h8.2v8.2h-8.2zM154,421h8.2v8.2h-8.2zM159.2,418.3h8.2v8.2h-8.2zM164.4,418.3h8.2v8.2h-8.2zM169.6,420.6h8.2v8.2h-8.2zM174.8,421.2h8.2v8.2h-8.2zM179.9,420.1h8.2v8.2h-8.2zM185.1,417.3h8.2v8.2h-8.2zM190.3,420.2h8.2v8.2h-8.2zM195.5,418.1h8.2v8.2h-8.2zM200.7,422.1h8.2v8.2h-8.2zM205.9,417.2h8.2v8.2h-8.2zM211.1,416.3h8.2v8.2h-8.2zM216.3,421.1h8.2v8.2h-8.2zM221.5,418h8.2v8.2h-8.2zM226.6,417.4h8.2v8.2h-8.2zM231.8,415.6h8.2v8.2h-8.2zM237,426h8.2v8.2h-8.2zM242.2,420.8h8.2v8.2h-8.2zM247.4,419.5h8.2v8.2h-8.2zM252.6,419.4h8.2v8.2h-8.2zM257.8,413.7h8.2v8.2h-8.2zM263,418.5h8.2v8.2h-8.2zM268.2,423.4h8.2v8.2h-8.2zM273.3,425.9h8.2v8.2h-8.2zM278.5,418.1h8.2v8.2h-8.2zM283.7,417.3h8.2v8.2h-8.2zM288.9,420.8h8.2v8.2h-8.2zM294.1,420.8h8.2v8.2h-8.2zM299.3,419.7h8.2v8.2h-8.2zM304.5,419.3h8.2v8.2h-8.2zM309.7,418.1h8.2v8.2h-8.2zM314.8,416.3h8.2v8.2h-8.2zM320,416.3h8.2v8.2h-8.2zM325.2,418.7h8.2v8.2h-8.2zM330.4,416.5h8.2v8.2h-8.2zM335.6,416.2h8.2v8.2h-8.2zM340.8,416.2h8.2v8.2h-8.2zM346,416.9h8.2v8.2h-8.2zM351.2,421.4h8.2v8.2h-8.2zM356.4,423.3h8.2v8.2h-8.2zM361.5,419h8.2v8.2h-8.2zM366.7,418.9h8.2v8.2h-8.2zM371.9,418h8.2v8.2h-8.2zM377.1,426.3h8.2v8.2h-8.2zM382.3,420.8h8.2v8.2h-8.2zM384.3,420.9h8.2v8.2h-8.2zM385.9,487.3h8.2v8.2h-8.2zM389.4,515.3h8.2v8.2h-8.2zM392.3,524h8.2v8.2h-8.2zM387.1,516.3h8.2v8.2h-8.2zM381.9,526.5h8.2v8.2h-8.2zM376.7,522.7h8.2v8.2h-8.2zM371.5,526.5h8.2v8.2h-8.2zM366.3,530.4h8.2v8.2h-8.2zM361.1,528.2h8.2v8.2h-8.2zM355.8,523.4h8.2v8.2h-8.2zM350.6,527.1h8.2v8.2h-8.2zM345.4,533.1h8.2v8.2h-8.2zM340.2,525.3h8.2v8.2h-8.2zM335,522.2h8.2v8.2h-8.2zM329.8,525.7h8.2v8.2h-8.2zM324.6,523.3h8.2v8.2h-8.2zM319.4,525.9h8.2v8.2h-8.2zM314.2,523.1h8.2v8.2h-8.2zM309,520.7h8.2v8.2h-8.2zM303.8,527h8.2v8.2h-8.2zM298.6,523.5h8.2v8.2h-8.2zM293.4,529.1h8.2v8.2h-8.2zM288.1,524.8h8.2v8.2h-8.2zM282.9,523.5h8.2v8.2h-8.2zM277.7,515.6h8.2v8.2h-8.2zM272.5,523.4h8.2v8.2h-8.2zM267.3,519.5h8.2v8.2h-8.2zM262.1,526.5h8.2v8.2h-8.2zM256.9,521.4h8.2v8.2h-8.2zM251.7,528.9h8.2v8.2h-8.2zM246.5,525.6h8.2v8.2h-8.2zM241.3,522.4h8.2v8.2h-8.2zM236.1,523.3h8.2v8.2h-8.2zM230.9,521.3h8.2v8.2h-8.2zM225.7,528.4h8.2v8.2h-8.2zM220.4,522.3h8.2v8.2h-8.2zM215.2,524.1h8.2v8.2h-8.2zM210,525.8h8.2v8.2h-8.2zM204.8,529.4h8.2v8.2h-8.2zM199.6,528.7h8.2v8.2h-8.2zM194.4,524.4h8.2v8.2h-8.2zM189.2,522.5h8.2v8.2h-8.2zM184,520.4h8.2v8.2h-8.2zM178.8,522.3h8.2v8.2h-8.2zM173.6,519.4h8.2v8.2h-8.2zM168.4,518.1h8.2v8.2h-8.2zM163.2,519.6h8.2v8.2h-8.2zM158,524.6h8.2v8.2h-8.2zM152.7,522.3h8.2v8.2h-8.2zM147.5,518.8h8.2v8.2h-8.2zM142.3,518.7h8.2v8.2h-8.2zM137.1,524.4h8.2v8.2h-8.2zM131.9,514.8h8.2v8.2h-8.2zM126.7,515.5h8.2v8.2h-8.2zM121.5,523h8.2v8.2h-8.2zM118.3,516.9h8.2v8.2h-8.2zM115.9,486.3h8.2v8.2h-8.2zM111.5,429.9h8.2v8.2h-8.2zM107.9,423.9h8.2v8.2h-8.2z" fill="#1080ff"/>
<polyline points="119.6,424.4 126.4,426.6 133.2,423.7 140,426.1 146.8,422.9 153.5,425.2 160.3,423 167.1,419.9 173.9,420 180.7,427.3 187.5,423.6 194.3,425.5 201.1,421.9 207.9,419.3 214.7,425.9 221.4,424.2 228.2,421.9 235,425 241.8,422.9 248.6,424.5 255.4,419 262.2,424.5 269,427.2 275.8,424.7 282.6,424.9 289.3,423.9 296.1,424.8 302.9,425.6 309.7,422.7 316.5,421.2 323.3,421.6 330.1,423.7 336.9,425.6 343.7,421.5 350.5,427 357.2,426.9 364,420.2 370.8,421 377.6,425.4 384.4,423.3" fill="none" stroke="#1080ff" stroke-width="2.2" stroke-linejoin="round"/>
<path d="M115.5,420.3h8.2v8.2h-8.2zM122.3,422.5h8.2v8.2h-8.2zM129.1,419.6h8.2v8.2h-8.2zM135.9,422h8.2v8.2h-8.2zM142.7,418.8h8.2v8.2h-8.2zM149.4,421.1h8.2v8.2h-8.2zM156.2,418.9h8.2v8.2h-8.2zM163,415.8h8.2v8.2h-8.2zM169.8,415.9h8.2v8.2h-8.2zM176.6,423.2h8.2v8.2h-8.2zM183.4,419.5h8.2v8.2h-8.2zM190.2,421.4h8.2v8.2h-8.2zM197,417.8h8.2v8.2h-8.2zM203.8,415.2h8.2v8.2h-8.2zM210.6,421.8h8.2v8.2h-8.2zM217.3,420.1h8.2v8.2h-8.2zM224.1,417.8h8.2v8.2h-8.2zM230.9,420.9h8.2v8.2h-8.2zM237.7,418.8h8.2v8.2h-8.2zM244.5,420.4h8.2v8.2h-8.2zM251.3,414.9h8.2v8.2h-8.2zM258.1,420.4h8.2v8.2h-8.2zM264.9,423.1h8.2v8.2h-8.2zM271.7,420.6h8.2v8.2h-8.2zM278.5,420.8h8.2v8.2h-8.2zM285.2,419.8h8.2v8.2h-8.2zM292,420.7h8.2v8.2h-8.2zM298.8,421.5h8.2v8.2h-8.2zM305.6,418.6h8.2v8.2h-8.2zM312.4,417.1h8.2v8.2h-8.2zM319.2,417.5h8.2v8.2h-8.2zM326,419.6h8.2v8.2h-8.2zM332.8,421.5h8.2v8.2h-8.2zM339.6,417.4h8.2v8.2h-8.2zM346.4,422.9h8.2v8.2h-8.2zM353.1,422.8h8.2v8.2h-8.2zM359.9,416.1h8.2v8.2h-8.2zM366.7,416.9h8.2v8.2h-8.2zM373.5,421.3h8.2v8.2h-8.2zM380.3,419.2h8.2v8.2h-8.2z" fill="#1080ff"/>
<polyline points="123.6,529.3 130,527.1 136.4,519.7 142.8,525.8 149.2,528.6 155.6,532.9 162,525.9 168.4,520.1 174.8,525.6 181.2,529 187.6,528.5 194,524.9 200.4,528.9 206.8,526.4 213.2,530.4 219.6,528.3 226,521.3 232.4,527.9 238.8,526.7 245.2,526.6 251.6,526.4 258,527.7 264.4,529 270.8,525.2 277.2,528.6 283.6,529.6 290,520.4 296.4,529.3 302.8,529.9 309.2,533.8 315.6,526.7 322,528.2 328.4,534.8 336,508.5 334.8,528.3 341.2,527.2 347.6,530.5 354,521.2 360.4,527.5 366.8,532 373.2,531.2 379.6,530.2 386,531.8 392.4,531.3 392,521 396,525 399,529 402,522 404,517 407,509 412.3,493.8" fill="none" stroke="#1080ff" stroke-width="2.2" stroke-linejoin="round"/>
<path d="M119.5,525.2h8.2v8.2h-8.2zM125.9,523h8.2v8.2h-8.2zM132.3,515.6h8.2v8.2h-8.2zM138.7,521.7h8.2v8.2h-8.2zM145.1,524.5h8.2v8.2h-8.2zM151.5,528.8h8.2v8.2h-8.2zM157.9,521.8h8.2v8.2h-8.2zM164.3,516h8.2v8.2h-8.2zM170.7,521.5h8.2v8.2h-8.2zM177.1,524.9h8.2v8.2h-8.2zM183.5,524.4h8.2v8.2h-8.2zM189.9,520.8h8.2v8.2h-8.2zM196.3,524.8h8.2v8.2h-8.2zM202.7,522.3h8.2v8.2h-8.2zM209.1,526.3h8.2v8.2h-8.2zM215.5,524.2h8.2v8.2h-8.2zM221.9,517.2h8.2v8.2h-8.2zM228.3,523.8h8.2v8.2h-8.2zM234.7,522.6h8.2v8.2h-8.2zM241.1,522.5h8.2v8.2h-8.2zM247.5,522.3h8.2v8.2h-8.2zM253.9,523.6h8.2v8.2h-8.2zM260.3,524.9h8.2v8.2h-8.2zM266.7,521.1h8.2v8.2h-8.2zM273.1,524.5h8.2v8.2h-8.2zM279.5,525.5h8.2v8.2h-8.2zM285.9,516.3h8.2v8.2h-8.2zM292.3,525.2h8.2v8.2h-8.2zM298.7,525.8h8.2v8.2h-8.2zM305.1,529.7h8.2v8.2h-8.2zM311.5,522.6h8.2v8.2h-8.2zM317.9,524.1h8.2v8.2h-8.2zM324.3,530.7h8.2v8.2h-8.2zM331.9,504.4h8.2v8.2h-8.2zM330.7,524.2h8.2v8.2h-8.2zM337.1,523.1h8.2v8.2h-8.2zM343.5,526.4h8.2v8.2h-8.2zM349.9,517.1h8.2v8.2h-8.2zM356.3,523.4h8.2v8.2h-8.2zM362.7,527.9h8.2v8.2h-8.2zM369.1,527.1h8.2v8.2h-8.2zM375.5,526.1h8.2v8.2h-8.2zM381.9,527.7h8.2v8.2h-8.2zM388.3,527.2h8.2v8.2h-8.2zM387.9,516.9h8.2v8.2h-8.2zM391.9,520.9h8.2v8.2h-8.2zM394.9,524.9h8.2v8.2h-8.2zM397.9,517.9h8.2v8.2h-8.2zM399.9,512.9h8.2v8.2h-8.2zM402.9,504.9h8.2v8.2h-8.2zM408.2,489.7h8.2v8.2h-8.2z" fill="#1080ff"/>
<polyline points="100.5,606 101,600 103.5,595.5 106.5,590 110,586.5 113,573 116,584 118.6,586.4 123.7,584.8 128.7,585 133.8,587.7 138.9,586 144,585.5 149,581.3 154.1,580.1 159.2,579.6 164.3,582.3 169.3,581.1 174.4,579.1 179.5,584.5 184.5,579.3 189.6,584.8 194.7,583.6 199.8,584.2 204.8,586.9 209.9,585.2 215,591.8 220.1,583.8 225.1,578.2 230.2,578.9 235.3,578.2 240.4,576.6 245.4,581.6 250.5,581.7 255.6,584.1 260.6,582.7 265.7,581.9 270.8,581.6 275.9,584.5 280.9,584 286,585.7 291.1,587.2 296.2,584.6 301.2,584.5 306.3,584.3 311.4,582.7 316.4,582.3 321.5,581.4 326.6,578.6 331.7,579.2 336.7,581.6 341.8,589.2 346.9,582.7 352,580 357,581.9 362.1,588.6 367.2,581.7 372.3,584.9 377.3,584.7 382.4,581.1 384.5,582.5 386.7,648 390,672.5 393,683 391,690 394.4,694.7 389.2,699.4 384.1,694.2 378.9,694.9 373.7,689.9 368.6,689.4 363.4,695.9 358.2,693.2 353,695.8 347.9,696.3 342.7,692.3 337.5,701.1 332.4,696 327.2,694 322,691.3 316.9,691.3 311.7,685.4 306.5,694.2 301.4,691.3 296.2,692.5 291,690.4 285.8,697.4 280.7,698.1 275.5,696.4 270.3,692.2 265.2,693.4 260,692.3 254.8,696.3 249.7,698.7 244.5,699.6 239.3,693.9 234.2,693 229,691.8 223.8,692.9 218.6,693.3 213.5,698.8 208.3,696.4 203.1,695.6 198,692.2 192.8,696.9 187.6,701.6 182.5,697.4 177.3,696.3 172.1,693.7 167,691.1 161.8,693.6 156.6,696.7 151.4,695 146.3,691.6 141.1,694.5 135.9,695.6 130.8,695.6 125.6,698 123,689.6 120,596 117,590" fill="none" stroke="#9a08ff" stroke-width="2.2" stroke-linejoin="round"/>
<path d="M96.4,601.9h8.2v8.2h-8.2zM96.9,595.9h8.2v8.2h-8.2zM99.4,591.4h8.2v8.2h-8.2zM102.4,585.9h8.2v8.2h-8.2zM105.9,582.4h8.2v8.2h-8.2zM108.9,568.9h8.2v8.2h-8.2zM111.9,579.9h8.2v8.2h-8.2zM114.5,582.3h8.2v8.2h-8.2zM119.6,580.7h8.2v8.2h-8.2zM124.6,580.9h8.2v8.2h-8.2zM129.7,583.6h8.2v8.2h-8.2zM134.8,581.9h8.2v8.2h-8.2zM139.9,581.4h8.2v8.2h-8.2zM144.9,577.2h8.2v8.2h-8.2zM150,576h8.2v8.2h-8.2zM155.1,575.5h8.2v8.2h-8.2zM160.2,578.2h8.2v8.2h-8.2zM165.2,577h8.2v8.2h-8.2zM170.3,575h8.2v8.2h-8.2zM175.4,580.4h8.2v8.2h-8.2zM180.4,575.2h8.2v8.2h-8.2zM185.5,580.7h8.2v8.2h-8.2zM190.6,579.5h8.2v8.2h-8.2zM195.7,580.1h8.2v8.2h-8.2zM200.7,582.8h8.2v8.2h-8.2zM205.8,581.1h8.2v8.2h-8.2zM210.9,587.7h8.2v8.2h-8.2zM216,579.7h8.2v8.2h-8.2zM221,574.1h8.2v8.2h-8.2zM226.1,574.8h8.2v8.2h-8.2zM231.2,574.1h8.2v8.2h-8.2zM236.3,572.5h8.2v8.2h-8.2zM241.3,577.5h8.2v8.2h-8.2zM246.4,577.6h8.2v8.2h-8.2zM251.5,580h8.2v8.2h-8.2zM256.5,578.6h8.2v8.2h-8.2zM261.6,577.8h8.2v8.2h-8.2zM266.7,577.5h8.2v8.2h-8.2zM271.8,580.4h8.2v8.2h-8.2zM276.8,579.9h8.2v8.2h-8.2zM281.9,581.6h8.2v8.2h-8.2zM287,583.1h8.2v8.2h-8.2zM292.1,580.5h8.2v8.2h-8.2zM297.1,580.4h8.2v8.2h-8.2zM302.2,580.2h8.2v8.2h-8.2zM307.3,578.6h8.2v8.2h-8.2zM312.3,578.2h8.2v8.2h-8.2zM317.4,577.3h8.2v8.2h-8.2zM322.5,574.5h8.2v8.2h-8.2zM327.6,575.1h8.2v8.2h-8.2zM332.6,577.5h8.2v8.2h-8.2zM337.7,585.1h8.2v8.2h-8.2zM342.8,578.6h8.2v8.2h-8.2zM347.9,575.9h8.2v8.2h-8.2zM352.9,577.8h8.2v8.2h-8.2zM358,584.5h8.2v8.2h-8.2zM363.1,577.6h8.2v8.2h-8.2zM368.2,580.8h8.2v8.2h-8.2zM373.2,580.6h8.2v8.2h-8.2zM378.3,577h8.2v8.2h-8.2zM380.4,578.4h8.2v8.2h-8.2zM382.6,643.9h8.2v8.2h-8.2zM385.9,668.4h8.2v8.2h-8.2zM388.9,678.9h8.2v8.2h-8.2zM386.9,685.9h8.2v8.2h-8.2zM390.3,690.6h8.2v8.2h-8.2zM385.1,695.3h8.2v8.2h-8.2zM380,690.1h8.2v8.2h-8.2zM374.8,690.8h8.2v8.2h-8.2zM369.6,685.8h8.2v8.2h-8.2zM364.5,685.3h8.2v8.2h-8.2zM359.3,691.8h8.2v8.2h-8.2zM354.1,689.1h8.2v8.2h-8.2zM348.9,691.7h8.2v8.2h-8.2zM343.8,692.2h8.2v8.2h-8.2zM338.6,688.2h8.2v8.2h-8.2zM333.4,697h8.2v8.2h-8.2zM328.3,691.9h8.2v8.2h-8.2zM323.1,689.9h8.2v8.2h-8.2zM317.9,687.2h8.2v8.2h-8.2zM312.8,687.2h8.2v8.2h-8.2zM307.6,681.3h8.2v8.2h-8.2zM302.4,690.1h8.2v8.2h-8.2zM297.3,687.2h8.2v8.2h-8.2zM292.1,688.4h8.2v8.2h-8.2zM286.9,686.3h8.2v8.2h-8.2zM281.7,693.3h8.2v8.2h-8.2zM276.6,694h8.2v8.2h-8.2zM271.4,692.3h8.2v8.2h-8.2zM266.2,688.1h8.2v8.2h-8.2zM261.1,689.3h8.2v8.2h-8.2zM255.9,688.2h8.2v8.2h-8.2zM250.7,692.2h8.2v8.2h-8.2zM245.6,694.6h8.2v8.2h-8.2zM240.4,695.5h8.2v8.2h-8.2zM235.2,689.8h8.2v8.2h-8.2zM230.1,688.9h8.2v8.2h-8.2zM224.9,687.7h8.2v8.2h-8.2zM219.7,688.8h8.2v8.2h-8.2zM214.5,689.2h8.2v8.2h-8.2zM209.4,694.7h8.2v8.2h-8.2zM204.2,692.3h8.2v8.2h-8.2zM199,691.5h8.2v8.2h-8.2zM193.9,688.1h8.2v8.2h-8.2zM188.7,692.8h8.2v8.2h-8.2zM183.5,697.5h8.2v8.2h-8.2zM178.4,693.3h8.2v8.2h-8.2zM173.2,692.2h8.2v8.2h-8.2zM168,689.6h8.2v8.2h-8.2zM162.9,687h8.2v8.2h-8.2zM157.7,689.5h8.2v8.2h-8.2zM152.5,692.6h8.2v8.2h-8.2zM147.3,690.9h8.2v8.2h-8.2zM142.2,687.5h8.2v8.2h-8.2zM137,690.4h8.2v8.2h-8.2zM131.8,691.5h8.2v8.2h-8.2zM126.7,691.5h8.2v8.2h-8.2zM121.5,693.9h8.2v8.2h-8.2zM118.9,685.5h8.2v8.2h-8.2zM115.9,591.9h8.2v8.2h-8.2zM112.9,585.9h8.2v8.2h-8.2z" fill="#9a08ff"/>
<polyline points="120.6,581.2 127.3,585.9 134,588.6 140.7,586.7 147.3,584.5 154,579.6 160.7,582.3 167.4,583.2 174.1,580.3 180.8,584.5 187.5,582 194.2,584.5 200.8,583.6 207.5,582.7 214.2,591.4 220.9,580.7 227.6,584.6 234.3,582.9 241,581.9 247.7,584.4 254.3,590.7 261,582.9 267.7,584.7 274.4,585.3 281.1,586.3 287.8,583.8 294.5,582.6 301.2,584.6 307.8,581.8 314.5,583.7 321.2,583 327.9,580.9 334.6,582.7 341.3,583 348,583.8 354.7,586.8 361.3,584.3 368,584.6 374.7,580.8 381.4,584.9" fill="none" stroke="#9a08ff" stroke-width="2.2" stroke-linejoin="round"/>
<path d="M116.5,577.1h8.2v8.2h-8.2zM123.2,581.8h8.2v8.2h-8.2zM129.9,584.5h8.2v8.2h-8.2zM136.6,582.6h8.2v8.2h-8.2zM143.2,580.4h8.2v8.2h-8.2zM149.9,575.5h8.2v8.2h-8.2zM156.6,578.2h8.2v8.2h-8.2zM163.3,579.1h8.2v8.2h-8.2zM170,576.2h8.2v8.2h-8.2zM176.7,580.4h8.2v8.2h-8.2zM183.4,577.9h8.2v8.2h-8.2zM190.1,580.4h8.2v8.2h-8.2zM196.7,579.5h8.2v8.2h-8.2zM203.4,578.6h8.2v8.2h-8.2zM210.1,587.3h8.2v8.2h-8.2zM216.8,576.6h8.2v8.2h-8.2zM223.5,580.5h8.2v8.2h-8.2zM230.2,578.8h8.2v8.2h-8.2zM236.9,577.8h8.2v8.2h-8.2zM243.6,580.3h8.2v8.2h-8.2zM250.2,586.6h8.2v8.2h-8.2zM256.9,578.8h8.2v8.2h-8.2zM263.6,580.6h8.2v8.2h-8.2zM270.3,581.2h8.2v8.2h-8.2zM277,582.2h8.2v8.2h-8.2zM283.7,579.7h8.2v8.2h-8.2zM290.4,578.5h8.2v8.2h-8.2zM297.1,580.5h8.2v8.2h-8.2zM303.7,577.7h8.2v8.2h-8.2zM310.4,579.6h8.2v8.2h-8.2zM317.1,578.9h8.2v8.2h-8.2zM323.8,576.8h8.2v8.2h-8.2zM330.5,578.6h8.2v8.2h-8.2zM337.2,578.9h8.2v8.2h-8.2zM343.9,579.7h8.2v8.2h-8.2zM350.6,582.7h8.2v8.2h-8.2zM357.2,580.2h8.2v8.2h-8.2zM363.9,580.5h8.2v8.2h-8.2zM370.6,576.7h8.2v8.2h-8.2zM377.3,580.8h8.2v8.2h-8.2z" fill="#9a08ff"/>
<polyline points="123.6,695 130.4,697.7 137.3,697 144.1,692.7 151,695.1 157.8,695.2 164.6,694.7 171.5,687 178.3,694.1 185.2,698.6 192,696.1 198.9,695.1 205.7,694.7 212.5,695.6 219.4,696.1 226.2,697.4 233.1,696.2 239.9,696.9 246.7,695.1 253.6,695.1 260.4,694.5 267.3,690.7 274.1,693.2 280.9,699.1 287.8,693.8 294.6,686.7 301.5,694.1 308.3,695.6 315.1,684.7 322,697.5 328.8,703.9 335.7,700.2 342.5,695.2 349.4,693.9 356.2,695.3 363,694.9 369.9,691.1 376.7,693.2 383.6,695.7 390.4,697.9 393,676 396,681 399,674 402,684 405.5,676 403,690 400,696 397,700 394,697" fill="none" stroke="#9a08ff" stroke-width="2.2" stroke-linejoin="round"/>
<path d="M119.5,690.9h8.2v8.2h-8.2zM126.3,693.6h8.2v8.2h-8.2zM133.2,692.9h8.2v8.2h-8.2zM140,688.6h8.2v8.2h-8.2zM146.9,691h8.2v8.2h-8.2zM153.7,691.1h8.2v8.2h-8.2zM160.5,690.6h8.2v8.2h-8.2zM167.4,682.9h8.2v8.2h-8.2zM174.2,690h8.2v8.2h-8.2zM181.1,694.5h8.2v8.2h-8.2zM187.9,692h8.2v8.2h-8.2zM194.8,691h8.2v8.2h-8.2zM201.6,690.6h8.2v8.2h-8.2zM208.4,691.5h8.2v8.2h-8.2zM215.3,692h8.2v8.2h-8.2zM222.1,693.3h8.2v8.2h-8.2zM229,692.1h8.2v8.2h-8.2zM235.8,692.8h8.2v8.2h-8.2zM242.6,691h8.2v8.2h-8.2zM249.5,691h8.2v8.2h-8.2zM256.3,690.4h8.2v8.2h-8.2zM263.2,686.6h8.2v8.2h-8.2zM270,689.1h8.2v8.2h-8.2zM276.8,695h8.2v8.2h-8.2zM283.7,689.7h8.2v8.2h-8.2zM290.5,682.6h8.2v8.2h-8.2zM297.4,690h8.2v8.2h-8.2zM304.2,691.5h8.2v8.2h-8.2zM311,680.6h8.2v8.2h-8.2zM317.9,693.4h8.2v8.2h-8.2zM324.7,699.8h8.2v8.2h-8.2zM331.6,696.1h8.2v8.2h-8.2zM338.4,691.1h8.2v8.2h-8.2zM345.3,689.8h8.2v8.2h-8.2zM352.1,691.2h8.2v8.2h-8.2zM358.9,690.8h8.2v8.2h-8.2zM365.8,687h8.2v8.2h-8.2zM372.6,689.1h8.2v8.2h-8.2zM379.5,691.6h8.2v8.2h-8.2zM386.3,693.8h8.2v8.2h-8.2zM388.9,671.9h8.2v8.2h-8.2zM391.9,676.9h8.2v8.2h-8.2zM394.9,669.9h8.2v8.2h-8.2zM397.9,679.9h8.2v8.2h-8.2zM401.4,671.9h8.2v8.2h-8.2zM398.9,685.9h8.2v8.2h-8.2zM395.9,691.9h8.2v8.2h-8.2zM392.9,695.9h8.2v8.2h-8.2zM389.9,692.9h8.2v8.2h-8.2z" fill="#9a08ff"/>
<polyline points="883.4,70.1 880.3,68.1 877.1,68.8 874,69.1 870.9,67.4 867.8,70.1 864.6,70.7 861.5,72.5 858.4,69.8 855.2,72 852.1,67.4 849,67 845.9,68 842.7,69.5 839.6,69.7 880.5,80 876,77 870.4,73.7 867.3,75.6 864.2,75.7 861.2,77 858.1,76.4 855,75.3 851.9,75.1 848.8,69.8 845.8,72 842.7,76.4 839.6,74.8 834.4,74.4 831.1,76.5 827.7,75.8 824.4,78 821.1,76.3 817.8,75.3 814.4,75.7 811.1,77.1 807.8,74.9 804.4,77.2 801.1,75.8 797.8,77.6 794.5,76.1 791.1,76.6 787.8,78.3 784.5,75.4 781.1,75.7 777.8,78.9 774.5,77.8 771.2,76.7 767.8,77.9 764.5,74.9 761.2,76.2 757.8,75.6 754.5,79 751.2,74.1 747.8,78.8 744.5,76.9 741.2,77.7 737.9,75.9 734.5,75.9 731.2,78.7 727.9,76.9 724.5,77.9 721.2,77.4 717.9,77.6 714.6,75.2 711.2,76.1 707.9,76.9 704.6,77.5 701.2,79 697.9,78.3 694.6,78.2 691.3,77 687.9,78.3 684.6,76 684.5,80 681.2,160 650.6,163 654,163 657.5,159.1 660.9,163 664.3,160.1 667.8,161.9 671.2,163.1 674.6,163.4 678,163.6 681.5,163.1 684.9,159.9 688.3,163.5 691.8,162.8 695.2,160.9 698.6,161.8 702.1,160.7 705.5,166.3 708.9,161.5 712.3,162.6 715.8,160.8 719.2,160.1 722.6,160.6 726.1,163.6 729.5,162.3 732.9,165.6 736.4,163.1 739.8,162.9 743.2,163.9 746.6,161.3 750.1,163.5 753.5,162.1 756.9,164 760.4,160.8 763.8,162.9 767.2,157.4 770.7,161.5 774.1,162 777.5,160.5 780.9,160.3 784.4,162.6 787.8,162.5 791.2,160.4 794.7,159.5 798.1,163.5 801.5,161.4 805,162.9 808.4,163.5 811.8,160.2 815.2,160.7 818.7,163.8 822.1,162.9 825.5,164.2 829,162.5 832.4,162.2 835.8,161 835.4,77" fill="none" stroke="#ff0000" stroke-width="1.8" stroke-linejoin="round"/>
<path d="M879.8,66.5h7.3v7.3h-7.3zM876.6,64.4h7.3v7.3h-7.3zM873.5,65.2h7.3v7.3h-7.3zM870.4,65.4h7.3v7.3h-7.3zM867.2,63.8h7.3v7.3h-7.3zM864.1,66.4h7.3v7.3h-7.3zM861,67.1h7.3v7.3h-7.3zM857.9,68.9h7.3v7.3h-7.3zM854.7,66.1h7.3v7.3h-7.3zM851.6,68.4h7.3v7.3h-7.3zM848.5,63.7h7.3v7.3h-7.3zM845.3,63.4h7.3v7.3h-7.3zM842.2,64.4h7.3v7.3h-7.3zM839.1,65.8h7.3v7.3h-7.3zM836,66h7.3v7.3h-7.3zM876.9,76.3h7.3v7.3h-7.3zM872.4,73.3h7.3v7.3h-7.3zM866.8,70.1h7.3v7.3h-7.3zM863.7,72h7.3v7.3h-7.3zM860.6,72.1h7.3v7.3h-7.3zM857.5,73.4h7.3v7.3h-7.3zM854.4,72.8h7.3v7.3h-7.3zM851.4,71.7h7.3v7.3h-7.3zM848.3,71.5h7.3v7.3h-7.3zM845.2,66.1h7.3v7.3h-7.3zM842.1,68.4h7.3v7.3h-7.3zM839,72.8h7.3v7.3h-7.3zM836,71.2h7.3v7.3h-7.3zM830.8,70.8h7.3v7.3h-7.3zM827.4,72.9h7.3v7.3h-7.3zM824.1,72.1h7.3v7.3h-7.3zM820.8,74.3h7.3v7.3h-7.3zM817.4,72.6h7.3v7.3h-7.3zM814.1,71.6h7.3v7.3h-7.3zM810.8,72.1h7.3v7.3h-7.3zM807.4,73.4h7.3v7.3h-7.3zM804.1,71.2h7.3v7.3h-7.3zM800.8,73.5h7.3v7.3h-7.3zM797.5,72.2h7.3v7.3h-7.3zM794.1,74h7.3v7.3h-7.3zM790.8,72.4h7.3v7.3h-7.3zM787.5,72.9h7.3v7.3h-7.3zM784.1,74.7h7.3v7.3h-7.3zM780.8,71.7h7.3v7.3h-7.3zM777.5,72.1h7.3v7.3h-7.3zM774.2,75.3h7.3v7.3h-7.3zM770.8,74.2h7.3v7.3h-7.3zM767.5,73.1h7.3v7.3h-7.3zM764.2,74.3h7.3v7.3h-7.3zM760.8,71.3h7.3v7.3h-7.3zM757.5,72.5h7.3v7.3h-7.3zM754.2,72h7.3v7.3h-7.3zM750.9,75.3h7.3v7.3h-7.3zM747.5,70.4h7.3v7.3h-7.3zM744.2,75.1h7.3v7.3h-7.3zM740.9,73.3h7.3v7.3h-7.3zM737.5,74.1h7.3v7.3h-7.3zM734.2,72.3h7.3v7.3h-7.3zM730.9,72.2h7.3v7.3h-7.3zM727.6,75h7.3v7.3h-7.3zM724.2,73.2h7.3v7.3h-7.3zM720.9,74.2h7.3v7.3h-7.3zM717.6,73.7h7.3v7.3h-7.3zM714.2,73.9h7.3v7.3h-7.3zM710.9,71.5h7.3v7.3h-7.3zM707.6,72.4h7.3v7.3h-7.3zM704.3,73.2h7.3v7.3h-7.3zM700.9,73.8h7.3v7.3h-7.3zM697.6,75.3h7.3v7.3h-7.3zM694.3,74.7h7.3v7.3h-7.3zM690.9,74.5h7.3v7.3h-7.3zM687.6,73.4h7.3v7.3h-7.3zM684.3,74.7h7.3v7.3h-7.3zM681,72.3h7.3v7.3h-7.3zM680.9,76.3h7.3v7.3h-7.3zM677.6,156.3h7.3v7.3h-7.3zM647,159.3h7.3v7.3h-7.3zM650.4,159.4h7.3v7.3h-7.3zM653.8,155.4h7.3v7.3h-7.3zM657.2,159.3h7.3v7.3h-7.3zM660.7,156.4h7.3v7.3h-7.3zM664.1,158.3h7.3v7.3h-7.3zM667.5,159.4h7.3v7.3h-7.3zM671,159.7h7.3v7.3h-7.3zM674.4,159.9h7.3v7.3h-7.3zM677.8,159.5h7.3v7.3h-7.3zM681.3,156.2h7.3v7.3h-7.3zM684.7,159.9h7.3v7.3h-7.3zM688.1,159.1h7.3v7.3h-7.3zM691.5,157.3h7.3v7.3h-7.3zM695,158.2h7.3v7.3h-7.3zM698.4,157.1h7.3v7.3h-7.3zM701.8,162.6h7.3v7.3h-7.3zM705.3,157.9h7.3v7.3h-7.3zM708.7,158.9h7.3v7.3h-7.3zM712.1,157.1h7.3v7.3h-7.3zM715.6,156.5h7.3v7.3h-7.3zM719,156.9h7.3v7.3h-7.3zM722.4,160h7.3v7.3h-7.3zM725.8,158.7h7.3v7.3h-7.3zM729.3,162h7.3v7.3h-7.3zM732.7,159.4h7.3v7.3h-7.3zM736.1,159.3h7.3v7.3h-7.3zM739.6,160.3h7.3v7.3h-7.3zM743,157.7h7.3v7.3h-7.3zM746.4,159.8h7.3v7.3h-7.3zM749.9,158.5h7.3v7.3h-7.3zM753.3,160.3h7.3v7.3h-7.3zM756.7,157.1h7.3v7.3h-7.3zM760.1,159.3h7.3v7.3h-7.3zM763.6,153.7h7.3v7.3h-7.3zM767,157.8h7.3v7.3h-7.3zM770.4,158.4h7.3v7.3h-7.3zM773.9,156.8h7.3v7.3h-7.3zM777.3,156.6h7.3v7.3h-7.3zM780.7,158.9h7.3v7.3h-7.3zM784.2,158.9h7.3v7.3h-7.3zM787.6,156.7h7.3v7.3h-7.3zM791,155.9h7.3v7.3h-7.3zM794.4,159.9h7.3v7.3h-7.3zM797.9,157.7h7.3v7.3h-7.3zM801.3,159.2h7.3v7.3h-7.3zM804.7,159.8h7.3v7.3h-7.3zM808.2,156.6h7.3v7.3h-7.3zM811.6,157h7.3v7.3h-7.3zM815,160.1h7.3v7.3h-7.3zM818.5,159.2h7.3v7.3h-7.3zM821.9,160.5h7.3v7.3h-7.3zM825.3,158.9h7.3v7.3h-7.3zM828.8,158.6h7.3v7.3h-7.3zM832.1,157.3h7.3v7.3h-7.3zM831.8,73.3h7.3v7.3h-7.3z" fill="#ff0000"/>
<polyline points="650.6,164.1 653.6,164.4 656.6,163.2 659.6,165.7 662.5,161.9 665.5,164 668.5,161.7 671.5,163.9 674.5,165.1 677.5,162.2 680.5,166 683.5,162.6 686.5,162.9 689.4,164.4 692.4,162.5 695.4,165.2 698.4,164.5" fill="none" stroke="#ff0000" stroke-width="1.8" stroke-linejoin="round"/>
<path d="M647,160.5h7.3v7.3h-7.3zM649.9,160.7h7.3v7.3h-7.3zM652.9,159.6h7.3v7.3h-7.3zM655.9,162.1h7.3v7.3h-7.3zM658.9,158.2h7.3v7.3h-7.3zM661.9,160.3h7.3v7.3h-7.3zM664.9,158.1h7.3v7.3h-7.3zM667.9,160.2h7.3v7.3h-7.3zM670.9,161.4h7.3v7.3h-7.3zM673.8,158.5h7.3v7.3h-7.3zM676.8,162.4h7.3v7.3h-7.3zM679.8,159h7.3v7.3h-7.3zM682.8,159.2h7.3v7.3h-7.3zM685.8,160.7h7.3v7.3h-7.3zM688.8,158.9h7.3v7.3h-7.3zM691.8,161.6h7.3v7.3h-7.3zM694.8,160.9h7.3v7.3h-7.3z" fill="#ff0000"/>
<polyline points="839.6,68.4 842.3,71.1 845.1,70.3 847.8,72 850.5,70.4 853.3,75 856,72.9 858.8,79.4 861.5,74.1 864.2,73 867,71.8 869.7,70.7 872.5,69.2 875.2,71.5 877.9,73.6 880.7,75.3 883.4,70.6" fill="none" stroke="#ff0000" stroke-width="1.8" stroke-linejoin="round"/>
<path d="M836,64.8h7.3v7.3h-7.3zM838.7,67.5h7.3v7.3h-7.3zM841.4,66.7h7.3v7.3h-7.3zM844.2,68.3h7.3v7.3h-7.3zM846.9,66.8h7.3v7.3h-7.3zM849.6,71.4h7.3v7.3h-7.3zM852.4,69.2h7.3v7.3h-7.3zM855.1,75.8h7.3v7.3h-7.3zM857.9,70.4h7.3v7.3h-7.3zM860.6,69.3h7.3v7.3h-7.3zM863.3,68.2h7.3v7.3h-7.3zM866.1,67.1h7.3v7.3h-7.3zM868.8,65.6h7.3v7.3h-7.3zM871.5,67.8h7.3v7.3h-7.3zM874.3,69.9h7.3v7.3h-7.3zM877,71.7h7.3v7.3h-7.3zM879.8,66.9h7.3v7.3h-7.3z" fill="#ff0000"/>
<polyline points="703.6,78.5 707.3,77.5 711,76 714.6,75.3 718.3,78.2 722,77.9 725.7,75.6 729.4,76.6 733,75.9 736.7,75 740.4,74.4 744.1,75 747.8,76.2 751.4,77.6 755.1,78.5 758.8,76.7 762.5,75.1 766.2,75.1 769.8,76.1 773.5,77.9 777.2,76.4 780.9,74.9 784.6,79.1 788.2,77.7 791.9,76.1 795.6,79.1 799.3,79.8 803,76.4 806.6,78.5 810.3,74.9 814,79.3 817.7,78.1 821.4,74.6 825,76.7 828.7,75.5 832.4,77.6" fill="none" stroke="#ff0000" stroke-width="1.8" stroke-linejoin="round"/>
<path d="M700,74.8h7.3v7.3h-7.3zM703.6,73.8h7.3v7.3h-7.3zM707.3,72.4h7.3v7.3h-7.3zM711,71.7h7.3v7.3h-7.3zM714.7,74.5h7.3v7.3h-7.3zM718.4,74.2h7.3v7.3h-7.3zM722,71.9h7.3v7.3h-7.3zM725.7,73h7.3v7.3h-7.3zM729.4,72.2h7.3v7.3h-7.3zM733.1,71.4h7.3v7.3h-7.3zM736.8,70.8h7.3v7.3h-7.3zM740.4,71.4h7.3v7.3h-7.3zM744.1,72.5h7.3v7.3h-7.3zM747.8,73.9h7.3v7.3h-7.3zM751.5,74.8h7.3v7.3h-7.3zM755.1,73.1h7.3v7.3h-7.3zM758.8,71.5h7.3v7.3h-7.3zM762.5,71.5h7.3v7.3h-7.3zM766.2,72.5h7.3v7.3h-7.3zM769.9,74.2h7.3v7.3h-7.3zM773.6,72.8h7.3v7.3h-7.3zM777.2,71.3h7.3v7.3h-7.3zM780.9,75.4h7.3v7.3h-7.3zM784.6,74h7.3v7.3h-7.3zM788.3,72.4h7.3v7.3h-7.3zM792,75.5h7.3v7.3h-7.3zM795.6,76.2h7.3v7.3h-7.3zM799.3,72.7h7.3v7.3h-7.3zM803,74.9h7.3v7.3h-7.3zM806.7,71.3h7.3v7.3h-7.3zM810.4,75.6h7.3v7.3h-7.3zM814,74.5h7.3v7.3h-7.3zM817.7,71h7.3v7.3h-7.3zM821.4,73h7.3v7.3h-7.3zM825.1,71.8h7.3v7.3h-7.3zM828.8,74h7.3v7.3h-7.3z" fill="#ff0000"/>
<polyline points="703.6,162.7 707.3,160.1 711,162.2 714.6,162.3 718.3,161.6 722,160.6 725.7,161.3 729.4,162.4 733,164.9 736.7,157.4 740.4,162.5 744.1,161.1 747.8,164 751.4,162.4 755.1,163.9 758.8,162.6 762.5,162.6 766.2,164 769.8,163.2 773.5,161.3 777.2,163.8 780.9,162.5 784.6,159 788.2,162.5 791.9,161.4 795.6,162 799.3,161.8 803,162.6 806.6,163.5 810.3,161.9 814,162.3 817.7,159.9 821.4,159.2 825,162.7 828.7,161 832.4,163.3" fill="none" stroke="#ff0000" stroke-width="1.8" stroke-linejoin="round"/>
<path d="M700,159.1h7.3v7.3h-7.3zM703.6,156.4h7.3v7.3h-7.3zM707.3,158.5h7.3v7.3h-7.3zM711,158.6h7.3v7.3h-7.3zM714.7,158h7.3v7.3h-7.3zM718.4,157h7.3v7.3h-7.3zM722,157.6h7.3v7.3h-7.3zM725.7,158.7h7.3v7.3h-7.3zM729.4,161.2h7.3v7.3h-7.3zM733.1,153.7h7.3v7.3h-7.3zM736.8,158.8h7.3v7.3h-7.3zM740.4,157.4h7.3v7.3h-7.3zM744.1,160.4h7.3v7.3h-7.3zM747.8,158.8h7.3v7.3h-7.3zM751.5,160.2h7.3v7.3h-7.3zM755.1,158.9h7.3v7.3h-7.3zM758.8,159h7.3v7.3h-7.3zM762.5,160.4h7.3v7.3h-7.3zM766.2,159.6h7.3v7.3h-7.3zM769.9,157.6h7.3v7.3h-7.3zM773.6,160.1h7.3v7.3h-7.3zM777.2,158.9h7.3v7.3h-7.3zM780.9,155.4h7.3v7.3h-7.3zM784.6,158.9h7.3v7.3h-7.3zM788.3,157.8h7.3v7.3h-7.3zM792,158.3h7.3v7.3h-7.3zM795.6,158.2h7.3v7.3h-7.3zM799.3,159h7.3v7.3h-7.3zM803,159.9h7.3v7.3h-7.3zM806.7,158.3h7.3v7.3h-7.3zM810.4,158.6h7.3v7.3h-7.3zM814,156.2h7.3v7.3h-7.3zM817.7,155.6h7.3v7.3h-7.3zM821.4,159h7.3v7.3h-7.3zM825.1,157.3h7.3v7.3h-7.3zM828.8,159.6h7.3v7.3h-7.3z" fill="#ff0000"/>
<polyline points="615.6,216.3 618.4,214.4 621.2,213.5 624,214.8 626.8,215.4 629.6,214 632.4,214.7 615.6,202.8 619.1,205.8 622.7,205.2 626.2,204.8 629.7,204.6 633.3,204.2 636.8,207.6 640.3,205.3 643.9,205.5 647.4,206.1 650.9,207 654.5,203.9 658,204.3 661.5,203.9 665.1,205.4 668.6,204 672.1,204.8 675.7,205.5 679.2,207.5 682.7,206.8 686.3,207.7 689.8,205.6 693.3,206.4 696.9,203.6 700.4,204 703.9,202.9 707.5,204.8 711,204.3 714.5,205.7 718.1,205.4 721.6,206.9 725.1,206.2 728.7,205.3 732.2,205.5 735.7,205.8 739.3,206.7 742.8,204.6 746.3,203.2 749.9,205.1 753.4,204.9 756.9,205.2 760.5,207 764,207.4 767.5,203.4 771.1,203.6 774.6,203.6 778.1,202.1 781.7,204.2 785.2,203.1 788.7,204.1 792.3,207.1 795.8,202.7 799.3,206.2 802.9,206.1 806.4,207.1 809.9,203.5 813.5,205.7 817,204.3 820.5,205.3 824.1,206.3 827.6,202.8 831.1,206.4 834.7,205 838.2,208.7 841.7,204.8 845.3,204.3 848.8,197.9 852.3,204.5 855.9,204.3 859.4,204.4 862.5,211 865.7,230.3 868.3,281.5 871.6,284.3 875,285.5 878.5,283.7 881.9,288.1 885.3,289.2 888.8,288.4 892.2,289.2 895.7,290.4 899.1,291.6 902.5,290.7 906,292.4 909.4,291.3 909.4,300.3 905.7,300.7 902.1,298.3 898.4,297.9 894.7,299 891.1,299.3 887.4,297.6 883.8,299.2 880.1,299.6 876.4,296.9 872.8,298.2 869.1,299.2 865.4,300.6 861.8,301.4 858.1,299.3 854.4,296.6 850.8,298.7 847.1,301 843.4,298.2 839.8,298.4 836.1,298.1 832.5,298 828.8,297.3 825.1,298.7 821.5,295.8 817.8,298.5 814.1,299.2 810.5,298.9 806.8,299.9 803.1,301 799.5,300.4 795.8,301 792.2,299 788.5,296.7 784.8,299.6 781.2,299.5 777.5,299 773.8,297.4 770.2,297.3 766.5,299.4 762.8,298.2 759.2,295.9 755.5,299 751.8,298.8 748.2,297.7 744.5,296.5 740.9,296.2 737.2,296.5 733.5,298.5 729.9,295 726.2,299.1 722.5,297.8 718.9,297.2 715.2,300 711.5,294.5 707.9,300.2 704.2,299.6 700.6,298.9 696.9,296.7 693.2,299 689.6,296.2 685.9,296 682.2,295.6 678.6,297.5 674.9,298.8 671.2,298.3 667.6,296.9 663.9,298.4 660.2,297.6 656.6,297.4 652.9,297.4 649.3,297.3 645.6,296.6 641.9,297.4 638.3,297.4 634.6,294.5 634,296 632.6,216" fill="none" stroke="#ff660a" stroke-width="1.8" stroke-linejoin="round"/>
<path d="M612,212.7h7.3v7.3h-7.3zM614.8,210.8h7.3v7.3h-7.3zM617.6,209.8h7.3v7.3h-7.3zM620.4,211.1h7.3v7.3h-7.3zM623.1,211.7h7.3v7.3h-7.3zM626,210.3h7.3v7.3h-7.3zM628.8,211h7.3v7.3h-7.3zM612,199.2h7.3v7.3h-7.3zM615.5,202.2h7.3v7.3h-7.3zM619,201.6h7.3v7.3h-7.3zM622.6,201.1h7.3v7.3h-7.3zM626.1,200.9h7.3v7.3h-7.3zM629.6,200.6h7.3v7.3h-7.3zM633.2,203.9h7.3v7.3h-7.3zM636.7,201.7h7.3v7.3h-7.3zM640.2,201.9h7.3v7.3h-7.3zM643.8,202.5h7.3v7.3h-7.3zM647.3,203.4h7.3v7.3h-7.3zM650.8,200.3h7.3v7.3h-7.3zM654.4,200.7h7.3v7.3h-7.3zM657.9,200.3h7.3v7.3h-7.3zM661.4,201.7h7.3v7.3h-7.3zM665,200.3h7.3v7.3h-7.3zM668.5,201.1h7.3v7.3h-7.3zM672,201.9h7.3v7.3h-7.3zM675.6,203.8h7.3v7.3h-7.3zM679.1,203.2h7.3v7.3h-7.3zM682.6,204.1h7.3v7.3h-7.3zM686.1,201.9h7.3v7.3h-7.3zM689.7,202.8h7.3v7.3h-7.3zM693.2,200h7.3v7.3h-7.3zM696.8,200.3h7.3v7.3h-7.3zM700.3,199.3h7.3v7.3h-7.3zM703.8,201.2h7.3v7.3h-7.3zM707.4,200.7h7.3v7.3h-7.3zM710.9,202.1h7.3v7.3h-7.3zM714.4,201.7h7.3v7.3h-7.3zM718,203.3h7.3v7.3h-7.3zM721.5,202.5h7.3v7.3h-7.3zM725,201.6h7.3v7.3h-7.3zM728.6,201.9h7.3v7.3h-7.3zM732.1,202.1h7.3v7.3h-7.3zM735.6,203.1h7.3v7.3h-7.3zM739.1,201h7.3v7.3h-7.3zM742.7,199.5h7.3v7.3h-7.3zM746.2,201.5h7.3v7.3h-7.3zM749.8,201.3h7.3v7.3h-7.3zM753.3,201.6h7.3v7.3h-7.3zM756.8,203.4h7.3v7.3h-7.3zM760.4,203.8h7.3v7.3h-7.3zM763.9,199.7h7.3v7.3h-7.3zM767.4,200h7.3v7.3h-7.3zM771,200h7.3v7.3h-7.3zM774.5,198.4h7.3v7.3h-7.3zM778,200.5h7.3v7.3h-7.3zM781.6,199.4h7.3v7.3h-7.3zM785.1,200.5h7.3v7.3h-7.3zM788.6,203.4h7.3v7.3h-7.3zM792.1,199.1h7.3v7.3h-7.3zM795.7,202.6h7.3v7.3h-7.3zM799.2,202.5h7.3v7.3h-7.3zM802.8,203.5h7.3v7.3h-7.3zM806.3,199.8h7.3v7.3h-7.3zM809.8,202h7.3v7.3h-7.3zM813.4,200.7h7.3v7.3h-7.3zM816.9,201.6h7.3v7.3h-7.3zM820.4,202.7h7.3v7.3h-7.3zM824,199.1h7.3v7.3h-7.3zM827.5,202.8h7.3v7.3h-7.3zM831,201.3h7.3v7.3h-7.3zM834.6,205h7.3v7.3h-7.3zM838.1,201.2h7.3v7.3h-7.3zM841.6,200.6h7.3v7.3h-7.3zM845.1,194.2h7.3v7.3h-7.3zM848.7,200.8h7.3v7.3h-7.3zM852.2,200.6h7.3v7.3h-7.3zM855.8,200.8h7.3v7.3h-7.3zM858.9,207.3h7.3v7.3h-7.3zM862.1,226.7h7.3v7.3h-7.3zM864.6,277.9h7.3v7.3h-7.3zM868,280.6h7.3v7.3h-7.3zM871.4,281.9h7.3v7.3h-7.3zM874.8,280.1h7.3v7.3h-7.3zM878.3,284.4h7.3v7.3h-7.3zM881.7,285.5h7.3v7.3h-7.3zM885.1,284.8h7.3v7.3h-7.3zM888.6,285.5h7.3v7.3h-7.3zM892,286.8h7.3v7.3h-7.3zM895.4,288h7.3v7.3h-7.3zM898.9,287.1h7.3v7.3h-7.3zM902.3,288.8h7.3v7.3h-7.3zM905.8,287.7h7.3v7.3h-7.3zM905.8,296.6h7.3v7.3h-7.3zM902.1,297.1h7.3v7.3h-7.3zM898.4,294.7h7.3v7.3h-7.3zM894.8,294.2h7.3v7.3h-7.3zM891.1,295.4h7.3v7.3h-7.3zM887.4,295.6h7.3v7.3h-7.3zM883.8,293.9h7.3v7.3h-7.3zM880.1,295.6h7.3v7.3h-7.3zM876.4,295.9h7.3v7.3h-7.3zM872.8,293.3h7.3v7.3h-7.3zM869.1,294.5h7.3v7.3h-7.3zM865.4,295.5h7.3v7.3h-7.3zM861.8,297h7.3v7.3h-7.3zM858.1,297.7h7.3v7.3h-7.3zM854.5,295.6h7.3v7.3h-7.3zM850.8,293h7.3v7.3h-7.3zM847.1,295h7.3v7.3h-7.3zM843.5,297.3h7.3v7.3h-7.3zM839.8,294.5h7.3v7.3h-7.3zM836.1,294.7h7.3v7.3h-7.3zM832.5,294.4h7.3v7.3h-7.3zM828.8,294.3h7.3v7.3h-7.3zM825.1,293.6h7.3v7.3h-7.3zM821.5,295.1h7.3v7.3h-7.3zM817.8,292.2h7.3v7.3h-7.3zM814.1,294.8h7.3v7.3h-7.3zM810.5,295.5h7.3v7.3h-7.3zM806.8,295.2h7.3v7.3h-7.3zM803.2,296.3h7.3v7.3h-7.3zM799.5,297.4h7.3v7.3h-7.3zM795.8,296.7h7.3v7.3h-7.3zM792.2,297.3h7.3v7.3h-7.3zM788.5,295.3h7.3v7.3h-7.3zM784.8,293.1h7.3v7.3h-7.3zM781.2,296h7.3v7.3h-7.3zM777.5,295.8h7.3v7.3h-7.3zM773.8,295.3h7.3v7.3h-7.3zM770.2,293.7h7.3v7.3h-7.3zM766.5,293.6h7.3v7.3h-7.3zM762.9,295.7h7.3v7.3h-7.3zM759.2,294.6h7.3v7.3h-7.3zM755.5,292.2h7.3v7.3h-7.3zM751.9,295.3h7.3v7.3h-7.3zM748.2,295.2h7.3v7.3h-7.3zM744.5,294.1h7.3v7.3h-7.3zM740.9,292.9h7.3v7.3h-7.3zM737.2,292.6h7.3v7.3h-7.3zM733.5,292.8h7.3v7.3h-7.3zM729.9,294.8h7.3v7.3h-7.3zM726.2,291.3h7.3v7.3h-7.3zM722.6,295.5h7.3v7.3h-7.3zM718.9,294.1h7.3v7.3h-7.3zM715.2,293.6h7.3v7.3h-7.3zM711.6,296.3h7.3v7.3h-7.3zM707.9,290.9h7.3v7.3h-7.3zM704.2,296.6h7.3v7.3h-7.3zM700.6,296h7.3v7.3h-7.3zM696.9,295.2h7.3v7.3h-7.3zM693.2,293h7.3v7.3h-7.3zM689.6,295.3h7.3v7.3h-7.3zM685.9,292.5h7.3v7.3h-7.3zM682.2,292.4h7.3v7.3h-7.3zM678.6,291.9h7.3v7.3h-7.3zM674.9,293.9h7.3v7.3h-7.3zM671.3,295.2h7.3v7.3h-7.3zM667.6,294.6h7.3v7.3h-7.3zM663.9,293.3h7.3v7.3h-7.3zM660.3,294.8h7.3v7.3h-7.3zM656.6,293.9h7.3v7.3h-7.3zM652.9,293.7h7.3v7.3h-7.3zM649.3,293.8h7.3v7.3h-7.3zM645.6,293.7h7.3v7.3h-7.3zM641.9,292.9h7.3v7.3h-7.3zM638.3,293.7h7.3v7.3h-7.3zM634.6,293.7h7.3v7.3h-7.3zM631,290.8h7.3v7.3h-7.3zM630.4,292.4h7.3v7.3h-7.3zM629,212.3h7.3v7.3h-7.3z" fill="#ff660a"/>
<polyline points="617.6,204.5 622.1,205.4 626.5,204.5 631,204.1 635.4,207.3 639.9,206.6 644.4,208 648.8,206.6 653.3,205.4 657.7,201.4 662.2,198.8 666.7,203.2 671.1,206.1 675.6,207.6 680,203.2 684.5,206 688.9,206.5 693.4,204 697.9,202.6 702.3,200.3 706.8,202.9 711.2,203.9 715.7,202.3 720.2,206.7 724.6,207.7 729.1,204.9 733.5,203.3 738,204.2 742.5,206.1 746.9,203.9 751.4,203.3 755.8,204.9 760.3,202.9 764.8,205.6 769.2,204.7 773.7,204.6 778.1,202.3 782.6,207.7 787.1,201.3 791.5,207.5 796,205.6 800.4,207 804.9,206.8 809.3,206.5 813.8,201.8 818.3,206.2 822.7,204.2 827.2,204.1 831.6,204.4 836.1,204.1 840.6,204 845,204 849.5,206.6 853.9,202.9 858.4,205.7" fill="none" stroke="#ff660a" stroke-width="1.8" stroke-linejoin="round"/>
<path d="M614,200.9h7.3v7.3h-7.3zM618.4,201.7h7.3v7.3h-7.3zM622.9,200.8h7.3v7.3h-7.3zM627.3,200.5h7.3v7.3h-7.3zM631.8,203.6h7.3v7.3h-7.3zM636.2,202.9h7.3v7.3h-7.3zM640.7,204.4h7.3v7.3h-7.3zM645.2,202.9h7.3v7.3h-7.3zM649.6,201.8h7.3v7.3h-7.3zM654.1,197.8h7.3v7.3h-7.3zM658.5,195.1h7.3v7.3h-7.3zM663,199.5h7.3v7.3h-7.3zM667.5,202.4h7.3v7.3h-7.3zM671.9,203.9h7.3v7.3h-7.3zM676.4,199.6h7.3v7.3h-7.3zM680.8,202.4h7.3v7.3h-7.3zM685.3,202.8h7.3v7.3h-7.3zM689.8,200.3h7.3v7.3h-7.3zM694.2,199h7.3v7.3h-7.3zM698.7,196.6h7.3v7.3h-7.3zM703.1,199.3h7.3v7.3h-7.3zM707.6,200.3h7.3v7.3h-7.3zM712.1,198.7h7.3v7.3h-7.3zM716.5,203h7.3v7.3h-7.3zM721,204.1h7.3v7.3h-7.3zM725.4,201.2h7.3v7.3h-7.3zM729.9,199.6h7.3v7.3h-7.3zM734.4,200.5h7.3v7.3h-7.3zM738.8,202.4h7.3v7.3h-7.3zM743.3,200.3h7.3v7.3h-7.3zM747.7,199.7h7.3v7.3h-7.3zM752.2,201.2h7.3v7.3h-7.3zM756.6,199.3h7.3v7.3h-7.3zM761.1,201.9h7.3v7.3h-7.3zM765.6,201h7.3v7.3h-7.3zM770,200.9h7.3v7.3h-7.3zM774.5,198.6h7.3v7.3h-7.3zM778.9,204h7.3v7.3h-7.3zM783.4,197.7h7.3v7.3h-7.3zM787.9,203.9h7.3v7.3h-7.3zM792.3,201.9h7.3v7.3h-7.3zM796.8,203.4h7.3v7.3h-7.3zM801.2,203.1h7.3v7.3h-7.3zM805.7,202.8h7.3v7.3h-7.3zM810.2,198.2h7.3v7.3h-7.3zM814.6,202.6h7.3v7.3h-7.3zM819.1,200.6h7.3v7.3h-7.3zM823.5,200.5h7.3v7.3h-7.3zM828,200.8h7.3v7.3h-7.3zM832.5,200.4h7.3v7.3h-7.3zM836.9,200.4h7.3v7.3h-7.3zM841.4,200.3h7.3v7.3h-7.3zM845.8,202.9h7.3v7.3h-7.3zM850.3,199.3h7.3v7.3h-7.3zM854.8,202h7.3v7.3h-7.3z" fill="#ff660a"/>
<polyline points="636.6,298.2 641.2,297.2 645.8,299.2 650.4,298.3 655,298.6 659.6,297.2 664.2,297.5 668.8,298.3 673.5,301.7 678.1,296.5 682.7,297.8 687.3,296.2 691.9,294.3 696.5,297.9 701.1,294.3 705.7,298.1 710.3,296.1 714.9,297.1 719.5,297.8 724.1,296.9 728.7,298.7 733.3,297.1 737.9,297.2 742.6,297.9 747.2,302.5 751.8,297.1 756.4,299.1 761,298.4 765.6,293.5 770.2,298.2 774.8,300.3 779.4,298.2 784,296.3 788.6,296.4 793.2,297.1 797.8,298.6 802.4,300 807.1,302.2 811.7,297.6 816.3,297.6 820.9,296.4 825.5,297.6 830.1,296.2 834.7,297.9 839.3,299.2 843.9,300.8 848.5,299.3 853.1,299.5 857.7,300.3 862.3,300.3 866.9,300.6 871.5,299.9 876.2,300.1 880.8,299 885.4,299.5 890,298.8 894.6,298.8 899.2,300.9 903.8,298.8 908.4,302.3" fill="none" stroke="#ff660a" stroke-width="1.8" stroke-linejoin="round"/>
<path d="M633,294.6h7.3v7.3h-7.3zM637.6,293.6h7.3v7.3h-7.3zM642.2,295.5h7.3v7.3h-7.3zM646.8,294.6h7.3v7.3h-7.3zM651.4,295h7.3v7.3h-7.3zM656,293.6h7.3v7.3h-7.3zM660.6,293.8h7.3v7.3h-7.3zM665.2,294.6h7.3v7.3h-7.3zM669.8,298h7.3v7.3h-7.3zM674.4,292.9h7.3v7.3h-7.3zM679,294.1h7.3v7.3h-7.3zM683.6,292.6h7.3v7.3h-7.3zM688.2,290.6h7.3v7.3h-7.3zM692.8,294.2h7.3v7.3h-7.3zM697.4,290.7h7.3v7.3h-7.3zM702.1,294.4h7.3v7.3h-7.3zM706.7,292.4h7.3v7.3h-7.3zM711.3,293.4h7.3v7.3h-7.3zM715.9,294.1h7.3v7.3h-7.3zM720.5,293.2h7.3v7.3h-7.3zM725.1,295.1h7.3v7.3h-7.3zM729.7,293.5h7.3v7.3h-7.3zM734.3,293.6h7.3v7.3h-7.3zM738.9,294.3h7.3v7.3h-7.3zM743.5,298.9h7.3v7.3h-7.3zM748.1,293.5h7.3v7.3h-7.3zM752.7,295.4h7.3v7.3h-7.3zM757.3,294.7h7.3v7.3h-7.3zM761.9,289.8h7.3v7.3h-7.3zM766.5,294.5h7.3v7.3h-7.3zM771.2,296.6h7.3v7.3h-7.3zM775.8,294.6h7.3v7.3h-7.3zM780.4,292.6h7.3v7.3h-7.3zM785,292.8h7.3v7.3h-7.3zM789.6,293.4h7.3v7.3h-7.3zM794.2,295h7.3v7.3h-7.3zM798.8,296.3h7.3v7.3h-7.3zM803.4,298.6h7.3v7.3h-7.3zM808,293.9h7.3v7.3h-7.3zM812.6,293.9h7.3v7.3h-7.3zM817.2,292.7h7.3v7.3h-7.3zM821.8,294h7.3v7.3h-7.3zM826.4,292.5h7.3v7.3h-7.3zM831,294.2h7.3v7.3h-7.3zM835.6,295.5h7.3v7.3h-7.3zM840.3,297.2h7.3v7.3h-7.3zM844.9,295.6h7.3v7.3h-7.3zM849.5,295.8h7.3v7.3h-7.3zM854.1,296.6h7.3v7.3h-7.3zM858.7,296.6h7.3v7.3h-7.3zM863.3,297h7.3v7.3h-7.3zM867.9,296.2h7.3v7.3h-7.3zM872.5,296.4h7.3v7.3h-7.3zM877.1,295.3h7.3v7.3h-7.3zM881.7,295.8h7.3v7.3h-7.3zM886.3,295.1h7.3v7.3h-7.3zM890.9,295.2h7.3v7.3h-7.3zM895.5,297.2h7.3v7.3h-7.3zM900.1,295.1h7.3v7.3h-7.3zM904.8,298.6h7.3v7.3h-7.3z" fill="#ff660a"/>
<polyline points="885.6,291.1 888.6,290.8 891.5,288.2 894.5,292 897.5,292.1 900.5,293.3 903.5,291.6 906.4,294.1 909.4,294.7" fill="none" stroke="#ff660a" stroke-width="1.8" stroke-linejoin="round"/>
<path d="M882,287.4h7.3v7.3h-7.3zM884.9,287.1h7.3v7.3h-7.3zM887.9,284.5h7.3v7.3h-7.3zM890.9,288.3h7.3v7.3h-7.3zM893.9,288.4h7.3v7.3h-7.3zM896.8,289.7h7.3v7.3h-7.3zM899.8,287.9h7.3v7.3h-7.3zM902.8,290.4h7.3v7.3h-7.3zM905.8,291.1h7.3v7.3h-7.3z" fill="#ff660a"/>
<polyline points="611.6,341.3 614.9,341.3 618.2,342.7 621.5,341.8 624.8,340.1 628.1,342.7 631.4,342.8 634.6,343.2 637.9,340.9 641.2,339.1 644.5,341.4 647.8,339.5 651.1,338.8 654.4,340.6 611.6,337 615.2,338.1 618.8,338.7 622.4,341.9 626,340 629.5,337.7 633.1,340.1 636.7,337.5 640.3,339 643.9,335.5 647.5,336.5 651.1,338.5 654.7,338.1 658.3,338.8 661.8,337.7 665.4,337.9 669,337.1 672.6,337.6 676.2,339.8 679.8,338.4 683.4,342.1 687,339.7 690.6,340 694.1,339.4 697.7,339.5 701.3,337.3 704.9,337.7 708.5,337.5 712.1,340.1 715.7,337.2 719.3,339.3 722.9,339 726.4,335.4 730,337.2 733.6,336.3 737.2,338.1 740.8,334.9 744.4,337.5 748,336 751.6,337.8 755.1,336 758.7,338.9 762.3,338.2 765.9,338 769.5,334.8 773.1,338.3 776.7,339.4 780.3,338.8 783.9,339.3 787.4,339.9 791,338.1 794.6,337.2 798.2,337.8 801.8,337.9 805.4,337.4 809,338 812.6,336.4 816.2,339.4 819.7,340.5 823.3,340.1 826.9,337.1 830.5,336.9 834.1,336.5 837.7,336.9 841.3,338.5 844.9,338.4 848.5,339.6 852,337.4 855.6,338.2 859.2,337.7 862.8,337.6 866.4,338.3 868.3,341 870.4,425 871.6,424.8 874.3,424 877,425 879.7,424.2 882.3,423.8 885,424.9 887.7,424.6 890.4,426.4 890.4,426.4 886.8,426.6 883.2,427.2 879.7,427.9 876.1,425.5 872.5,426.7 868.9,429.6 865.3,426.9 861.7,428.7 858.2,430 854.6,429.3 851,427.8 847.4,428.7 843.8,426.6 840.3,424.7 836.7,429.4 833.1,428.5 829.5,427.9 825.9,426.9 822.4,428.5 818.8,426.2 815.2,426.3 811.6,427 808,426.4 804.4,428.6 800.9,426.5 797.3,428 793.7,429.1 790.1,428.5 786.5,429.1 783,429.2 779.4,429 775.8,427.3 772.2,426.6 768.6,426 765,428.1 761.5,427.7 757.9,428.8 754.3,429.1 750.7,429 747.1,431.6 743.6,433.4 740,428.7 736.4,428.9 732.8,427.7 729.2,426.7 725.6,426.9 722.1,426 718.5,423.6 714.9,427 711.3,428.8 707.7,427.3 704.2,426.3 700.6,428.2 697,429.6 693.4,428.3 689.8,427.6 686.3,428.7 682.7,428.1 679.1,428.8 675.5,430.3 671.9,428.7 668.3,427.6 664.8,429.8 661.2,428.2 657.6,427.8 657,426.5 654.8,343" fill="none" stroke="#0cff0c" stroke-width="1.8" stroke-linejoin="round"/>
<path d="M608,337.7h7.3v7.3h-7.3zM611.2,337.6h7.3v7.3h-7.3zM614.5,339h7.3v7.3h-7.3zM617.8,338.2h7.3v7.3h-7.3zM621.1,336.5h7.3v7.3h-7.3zM624.4,339h7.3v7.3h-7.3zM627.7,339.1h7.3v7.3h-7.3zM631,339.6h7.3v7.3h-7.3zM634.3,337.2h7.3v7.3h-7.3zM637.6,335.5h7.3v7.3h-7.3zM640.9,337.7h7.3v7.3h-7.3zM644.2,335.8h7.3v7.3h-7.3zM647.5,335.1h7.3v7.3h-7.3zM650.8,336.9h7.3v7.3h-7.3zM608,333.4h7.3v7.3h-7.3zM611.5,334.5h7.3v7.3h-7.3zM615.1,335h7.3v7.3h-7.3zM618.7,338.3h7.3v7.3h-7.3zM622.3,336.3h7.3v7.3h-7.3zM625.9,334h7.3v7.3h-7.3zM629.5,336.4h7.3v7.3h-7.3zM633.1,333.9h7.3v7.3h-7.3zM636.7,335.4h7.3v7.3h-7.3zM640.2,331.8h7.3v7.3h-7.3zM643.8,332.9h7.3v7.3h-7.3zM647.4,334.8h7.3v7.3h-7.3zM651,334.5h7.3v7.3h-7.3zM654.6,335.2h7.3v7.3h-7.3zM658.2,334.1h7.3v7.3h-7.3zM661.8,334.3h7.3v7.3h-7.3zM665.4,333.5h7.3v7.3h-7.3zM669,334h7.3v7.3h-7.3zM672.5,336.1h7.3v7.3h-7.3zM676.1,334.8h7.3v7.3h-7.3zM679.7,338.5h7.3v7.3h-7.3zM683.3,336h7.3v7.3h-7.3zM686.9,336.4h7.3v7.3h-7.3zM690.5,335.8h7.3v7.3h-7.3zM694.1,335.9h7.3v7.3h-7.3zM697.7,333.7h7.3v7.3h-7.3zM701.3,334.1h7.3v7.3h-7.3zM704.8,333.9h7.3v7.3h-7.3zM708.4,336.5h7.3v7.3h-7.3zM712,333.5h7.3v7.3h-7.3zM715.6,335.6h7.3v7.3h-7.3zM719.2,335.3h7.3v7.3h-7.3zM722.8,331.8h7.3v7.3h-7.3zM726.4,333.6h7.3v7.3h-7.3zM730,332.7h7.3v7.3h-7.3zM733.6,334.5h7.3v7.3h-7.3zM737.1,331.3h7.3v7.3h-7.3zM740.7,333.9h7.3v7.3h-7.3zM744.3,332.3h7.3v7.3h-7.3zM747.9,334.1h7.3v7.3h-7.3zM751.5,332.4h7.3v7.3h-7.3zM755.1,335.2h7.3v7.3h-7.3zM758.7,334.6h7.3v7.3h-7.3zM762.3,334.3h7.3v7.3h-7.3zM765.9,331.2h7.3v7.3h-7.3zM769.4,334.7h7.3v7.3h-7.3zM773,335.7h7.3v7.3h-7.3zM776.6,335.2h7.3v7.3h-7.3zM780.2,335.7h7.3v7.3h-7.3zM783.8,336.2h7.3v7.3h-7.3zM787.4,334.4h7.3v7.3h-7.3zM791,333.6h7.3v7.3h-7.3zM794.6,334.2h7.3v7.3h-7.3zM798.2,334.2h7.3v7.3h-7.3zM801.7,333.7h7.3v7.3h-7.3zM805.3,334.3h7.3v7.3h-7.3zM808.9,332.8h7.3v7.3h-7.3zM812.5,335.8h7.3v7.3h-7.3zM816.1,336.8h7.3v7.3h-7.3zM819.7,336.4h7.3v7.3h-7.3zM823.3,333.4h7.3v7.3h-7.3zM826.9,333.3h7.3v7.3h-7.3zM830.5,332.9h7.3v7.3h-7.3zM834,333.2h7.3v7.3h-7.3zM837.6,334.8h7.3v7.3h-7.3zM841.2,334.7h7.3v7.3h-7.3zM844.8,336h7.3v7.3h-7.3zM848.4,333.7h7.3v7.3h-7.3zM852,334.5h7.3v7.3h-7.3zM855.6,334h7.3v7.3h-7.3zM859.2,333.9h7.3v7.3h-7.3zM862.8,334.7h7.3v7.3h-7.3zM864.6,337.4h7.3v7.3h-7.3zM866.8,421.4h7.3v7.3h-7.3zM868,421.1h7.3v7.3h-7.3zM870.6,420.3h7.3v7.3h-7.3zM873.3,421.4h7.3v7.3h-7.3zM876,420.5h7.3v7.3h-7.3zM878.7,420.2h7.3v7.3h-7.3zM881.4,421.3h7.3v7.3h-7.3zM884.1,421h7.3v7.3h-7.3zM886.8,422.8h7.3v7.3h-7.3zM886.8,422.8h7.3v7.3h-7.3zM883.2,422.9h7.3v7.3h-7.3zM879.6,423.5h7.3v7.3h-7.3zM876,424.2h7.3v7.3h-7.3zM872.4,421.8h7.3v7.3h-7.3zM868.8,423.1h7.3v7.3h-7.3zM865.3,426h7.3v7.3h-7.3zM861.7,423.2h7.3v7.3h-7.3zM858.1,425.1h7.3v7.3h-7.3zM854.5,426.4h7.3v7.3h-7.3zM850.9,425.7h7.3v7.3h-7.3zM847.4,424.2h7.3v7.3h-7.3zM843.8,425.1h7.3v7.3h-7.3zM840.2,423h7.3v7.3h-7.3zM836.6,421.1h7.3v7.3h-7.3zM833,425.7h7.3v7.3h-7.3zM829.4,424.9h7.3v7.3h-7.3zM825.9,424.2h7.3v7.3h-7.3zM822.3,423.3h7.3v7.3h-7.3zM818.7,424.8h7.3v7.3h-7.3zM815.1,422.6h7.3v7.3h-7.3zM811.5,422.6h7.3v7.3h-7.3zM808,423.4h7.3v7.3h-7.3zM804.4,422.8h7.3v7.3h-7.3zM800.8,424.9h7.3v7.3h-7.3zM797.2,422.8h7.3v7.3h-7.3zM793.6,424.4h7.3v7.3h-7.3zM790,425.4h7.3v7.3h-7.3zM786.5,424.8h7.3v7.3h-7.3zM782.9,425.5h7.3v7.3h-7.3zM779.3,425.6h7.3v7.3h-7.3zM775.7,425.3h7.3v7.3h-7.3zM772.1,423.7h7.3v7.3h-7.3zM768.6,422.9h7.3v7.3h-7.3zM765,422.3h7.3v7.3h-7.3zM761.4,424.5h7.3v7.3h-7.3zM757.8,424.1h7.3v7.3h-7.3zM754.2,425.1h7.3v7.3h-7.3zM750.7,425.4h7.3v7.3h-7.3zM747.1,425.4h7.3v7.3h-7.3zM743.5,428h7.3v7.3h-7.3zM739.9,429.8h7.3v7.3h-7.3zM736.3,425.1h7.3v7.3h-7.3zM732.7,425.2h7.3v7.3h-7.3zM729.2,424h7.3v7.3h-7.3zM725.6,423.1h7.3v7.3h-7.3zM722,423.3h7.3v7.3h-7.3zM718.4,422.4h7.3v7.3h-7.3zM714.8,420h7.3v7.3h-7.3zM711.3,423.4h7.3v7.3h-7.3zM707.7,425.2h7.3v7.3h-7.3zM704.1,423.7h7.3v7.3h-7.3zM700.5,422.6h7.3v7.3h-7.3zM696.9,424.6h7.3v7.3h-7.3zM693.3,426h7.3v7.3h-7.3zM689.8,424.6h7.3v7.3h-7.3zM686.2,424h7.3v7.3h-7.3zM682.6,425h7.3v7.3h-7.3zM679,424.5h7.3v7.3h-7.3zM675.4,425.2h7.3v7.3h-7.3zM671.9,426.6h7.3v7.3h-7.3zM668.3,425.1h7.3v7.3h-7.3zM664.7,423.9h7.3v7.3h-7.3zM661.1,426.2h7.3v7.3h-7.3zM657.5,424.5h7.3v7.3h-7.3zM654,424.1h7.3v7.3h-7.3zM653.4,422.9h7.3v7.3h-7.3zM651.1,339.4h7.3v7.3h-7.3z" fill="#0cff0c"/>
<polyline points="613.6,339.8 618.2,340 622.7,339.6 627.3,341.7 631.8,336.8 636.4,337.4 641,338.4 645.5,340.3 650.1,340.7 654.6,338.9 659.2,337.5 663.8,337.6 668.3,338.5 672.9,336.2 677.4,337.9 682,339.2 686.6,339.6 691.1,340 695.7,339.8 700.2,338.7 704.8,338.8 709.4,339.2 713.9,339.7 718.5,339.3 723,337.1 727.6,337.8 732.2,338.2 736.7,336.9 741.3,339.4 745.8,337 750.4,337.7 755,339.6 759.5,337 764.1,337.1 768.6,338 773.2,337.6 777.8,336.7 782.3,340.7 786.9,339 791.4,338.2 796,338.2 800.6,335.7 805.1,337.6 809.7,339.2 814.2,340.5 818.8,342.8 823.4,339.7 827.9,337.9 832.5,336.7 837,336.9 841.6,340 846.2,338.4 850.7,340.5 855.3,339.8 859.8,338.9 864.4,338.6" fill="none" stroke="#0cff0c" stroke-width="1.8" stroke-linejoin="round"/>
<path d="M610,336.2h7.3v7.3h-7.3zM614.5,336.4h7.3v7.3h-7.3zM619.1,336h7.3v7.3h-7.3zM623.6,338.1h7.3v7.3h-7.3zM628.2,333.1h7.3v7.3h-7.3zM632.8,333.7h7.3v7.3h-7.3zM637.3,334.8h7.3v7.3h-7.3zM641.9,336.6h7.3v7.3h-7.3zM646.4,337.1h7.3v7.3h-7.3zM651,335.3h7.3v7.3h-7.3zM655.6,333.8h7.3v7.3h-7.3zM660.1,333.9h7.3v7.3h-7.3zM664.7,334.8h7.3v7.3h-7.3zM669.2,332.6h7.3v7.3h-7.3zM673.8,334.3h7.3v7.3h-7.3zM678.4,335.5h7.3v7.3h-7.3zM682.9,335.9h7.3v7.3h-7.3zM687.5,336.4h7.3v7.3h-7.3zM692,336.1h7.3v7.3h-7.3zM696.6,335.1h7.3v7.3h-7.3zM701.1,335.1h7.3v7.3h-7.3zM705.7,335.5h7.3v7.3h-7.3zM710.3,336h7.3v7.3h-7.3zM714.8,335.7h7.3v7.3h-7.3zM719.4,333.5h7.3v7.3h-7.3zM724,334.1h7.3v7.3h-7.3zM728.5,334.6h7.3v7.3h-7.3zM733.1,333.3h7.3v7.3h-7.3zM737.6,335.8h7.3v7.3h-7.3zM742.2,333.4h7.3v7.3h-7.3zM746.8,334h7.3v7.3h-7.3zM751.3,335.9h7.3v7.3h-7.3zM755.9,333.4h7.3v7.3h-7.3zM760.4,333.4h7.3v7.3h-7.3zM765,334.4h7.3v7.3h-7.3zM769.6,334h7.3v7.3h-7.3zM774.1,333h7.3v7.3h-7.3zM778.7,337.1h7.3v7.3h-7.3zM783.2,335.3h7.3v7.3h-7.3zM787.8,334.5h7.3v7.3h-7.3zM792.4,334.6h7.3v7.3h-7.3zM796.9,332h7.3v7.3h-7.3zM801.5,334h7.3v7.3h-7.3zM806,335.5h7.3v7.3h-7.3zM810.6,336.8h7.3v7.3h-7.3zM815.1,339.1h7.3v7.3h-7.3zM819.7,336h7.3v7.3h-7.3zM824.3,334.2h7.3v7.3h-7.3zM828.8,333h7.3v7.3h-7.3zM833.4,333.3h7.3v7.3h-7.3zM838,336.3h7.3v7.3h-7.3zM842.5,334.8h7.3v7.3h-7.3zM847.1,336.9h7.3v7.3h-7.3zM851.6,336.1h7.3v7.3h-7.3zM856.2,335.2h7.3v7.3h-7.3zM860.8,335h7.3v7.3h-7.3z" fill="#0cff0c"/>
<polyline points="659.6,430.1 664.1,428 668.6,430.9 673.1,430.6 677.6,427.8 682.1,429.9 686.6,430.4 691.1,429 695.6,430.1 700.2,428 704.7,426.1 709.2,428.7 713.7,425.5 718.2,426.5 722.7,427.1 727.2,425.2 731.7,429 736.2,429.6 740.7,431.5 745.2,430.9 749.7,430.3 754.2,429.1 758.7,427.4 763.2,432 767.7,428.1 772.2,426.8 776.8,427 781.3,428 785.8,430.6 790.3,425.6 794.8,430.5 799.3,427.3 803.8,424.9 808.3,427.8 812.8,427.1 817.3,428.5 821.8,426.1 826.3,429.2 830.8,429.2 835.3,428 839.8,427.2 844.3,429.2 848.8,428.9 853.4,428.7 857.9,430 862.4,429.4 866.9,429.7 871.4,424.9 875.9,428.1 880.4,429.2 884.9,429.8 889.4,426" fill="none" stroke="#0cff0c" stroke-width="1.8" stroke-linejoin="round"/>
<path d="M656,426.4h7.3v7.3h-7.3zM660.5,424.4h7.3v7.3h-7.3zM665,427.3h7.3v7.3h-7.3zM669.5,427h7.3v7.3h-7.3zM674,424.1h7.3v7.3h-7.3zM678.5,426.2h7.3v7.3h-7.3zM683,426.7h7.3v7.3h-7.3zM687.5,425.4h7.3v7.3h-7.3zM692,426.4h7.3v7.3h-7.3zM696.5,424.4h7.3v7.3h-7.3zM701,422.5h7.3v7.3h-7.3zM705.5,425.1h7.3v7.3h-7.3zM710,421.8h7.3v7.3h-7.3zM714.5,422.8h7.3v7.3h-7.3zM719,423.4h7.3v7.3h-7.3zM723.5,421.6h7.3v7.3h-7.3zM728,425.3h7.3v7.3h-7.3zM732.6,425.9h7.3v7.3h-7.3zM737.1,427.9h7.3v7.3h-7.3zM741.6,427.3h7.3v7.3h-7.3zM746.1,426.6h7.3v7.3h-7.3zM750.6,425.4h7.3v7.3h-7.3zM755.1,423.7h7.3v7.3h-7.3zM759.6,428.3h7.3v7.3h-7.3zM764.1,424.4h7.3v7.3h-7.3zM768.6,423.2h7.3v7.3h-7.3zM773.1,423.3h7.3v7.3h-7.3zM777.6,424.3h7.3v7.3h-7.3zM782.1,427h7.3v7.3h-7.3zM786.6,421.9h7.3v7.3h-7.3zM791.1,426.9h7.3v7.3h-7.3zM795.6,423.7h7.3v7.3h-7.3zM800.1,421.2h7.3v7.3h-7.3zM804.6,424.2h7.3v7.3h-7.3zM809.1,423.4h7.3v7.3h-7.3zM813.7,424.9h7.3v7.3h-7.3zM818.2,422.5h7.3v7.3h-7.3zM822.7,425.5h7.3v7.3h-7.3zM827.2,425.6h7.3v7.3h-7.3zM831.7,424.4h7.3v7.3h-7.3zM836.2,423.6h7.3v7.3h-7.3zM840.7,425.6h7.3v7.3h-7.3zM845.2,425.2h7.3v7.3h-7.3zM849.7,425h7.3v7.3h-7.3zM854.2,426.4h7.3v7.3h-7.3zM858.7,425.8h7.3v7.3h-7.3zM863.2,426h7.3v7.3h-7.3zM867.7,421.2h7.3v7.3h-7.3zM872.2,424.4h7.3v7.3h-7.3zM876.7,425.5h7.3v7.3h-7.3zM881.2,426.1h7.3v7.3h-7.3zM885.8,422.4h7.3v7.3h-7.3z" fill="#0cff0c"/>
<polyline points="611.6,336 615.5,336.5 619.4,336.4 623.3,336.7 627.2,333.9 631.1,338 634.9,334.9 638.8,334.4 642.7,336.3 646.6,336.5 650.5,337.5 654.4,334.5" fill="none" stroke="#0cff0c" stroke-width="1.8" stroke-linejoin="round"/>
<path d="M608,332.4h7.3v7.3h-7.3zM611.8,332.8h7.3v7.3h-7.3zM615.7,332.7h7.3v7.3h-7.3zM619.6,333.1h7.3v7.3h-7.3zM623.5,330.3h7.3v7.3h-7.3zM627.4,334.3h7.3v7.3h-7.3zM631.3,331.2h7.3v7.3h-7.3zM635.2,330.8h7.3v7.3h-7.3zM639.1,332.7h7.3v7.3h-7.3zM643,332.9h7.3v7.3h-7.3zM646.9,333.8h7.3v7.3h-7.3zM650.8,330.8h7.3v7.3h-7.3z" fill="#0cff0c"/>
<polyline points="871.6,428.5 874.3,428.7 877,428.1 879.7,431.8 882.3,427.8 885,429.2 887.7,428.7 890.4,430" fill="none" stroke="#0cff0c" stroke-width="1.8" stroke-linejoin="round"/>
<path d="M868,424.9h7.3v7.3h-7.3zM870.6,425h7.3v7.3h-7.3zM873.3,424.5h7.3v7.3h-7.3zM876,428.1h7.3v7.3h-7.3zM878.7,424.2h7.3v7.3h-7.3zM881.4,425.6h7.3v7.3h-7.3zM884.1,425.1h7.3v7.3h-7.3zM886.8,426.3h7.3v7.3h-7.3z" fill="#0cff0c"/>
<polyline points="609.6,462.9 613.2,465.1 616.7,466 620.3,464.5 623.8,465.7 627.4,466.1 631,460.5 634.5,467.6 638.1,466.1 641.6,465.3 645.2,468.4 648.8,465.3 652.3,465 655.9,465.8 659.4,464.7 663,460.6 666.6,466 670.1,462.4 673.7,463.6 677.3,462.8 680.8,463.3 684.4,462.5 687.9,464.7 691.5,464.6 695.1,462.9 698.6,461.2 702.2,465.7 705.7,467.2 709.3,464.8 712.9,466.4 716.4,462.8 720,467.5 723.5,464.8 727.1,463.1 730.7,465.2 734.2,465 737.8,463.6 741.3,468.1 744.9,466.8 748.5,463.5 752,464.8 755.6,465.9 759.1,465.3 762.7,466.8 766.3,467.7 769.8,465.8 773.4,464.4 776.9,465.8 780.5,466.4 784.1,468.8 787.6,470.7 791.2,468.7 794.7,467.1 798.3,470 801.9,467.8 805.4,466.2 809,467.5 812.6,467.8 816.1,465.9 819.7,463.8 823.2,466.8 826.8,462.3 830.4,461.9 833.9,462.9 837.5,462.9 841,462.1 844.6,462.6 848.2,462.2 851.7,464.2 855.3,464.1 858.8,465.8 862.4,462.9 862.8,467 865,552 867.6,553.8 870.8,554.2 874.1,552.3 877.3,554.2 880.5,551.5 883.8,553.4 887,556.4 890.2,555.6 893.5,553.1 896.7,555.4 899.9,554 903.2,554.9 906.4,553.7 906.4,555.3 902.8,553.2 899.2,555.3 895.6,552.6 892,555.8 888.4,555.6 884.8,554.9 881.2,554.9 877.6,552.8 874,552.7 870.4,554.5 866.8,552.5 863.2,553.9 859.6,556.9 856,554 852.4,553.9 848.8,551.6 845.2,551.5 841.6,555.5 838,556.5 834.4,555.7 830.8,553.6 827.2,553.4 823.6,552.8 820,554.4 816.4,554.8 812.8,556.9 809.2,555.9 805.6,556.2 802,555.4 798.4,555.9 794.8,556.5 791.2,554.3 787.6,552.6 784,555.2 780.4,553.7 776.8,554.8 773.2,554.2 769.6,557.1 766,555.5 762.4,556.2 758.8,554.9 755.2,554.7 751.6,556 748,557.7 744.4,557.4 740.8,555.6 737.2,554 733.6,554.1 730,558.3 726.4,551.8 722.8,553.6 719.2,553.1 715.6,552.5 712,553.7 708.4,555.8 704.8,554.3 701.2,555.8 697.6,553.6 694,551 690.4,553.2 686.8,555 683.2,556.3 679.6,555.5 676,553.3 672.4,555.8 668.8,555.9 665.2,554.2 661.6,554.9 658,554.8 654.4,553.2 650.8,553.6 647.2,553.1 643.6,551.9 643.5,552 641,467" fill="none" stroke="#1080ff" stroke-width="1.8" stroke-linejoin="round"/>
<path d="M606,459.3h7.3v7.3h-7.3zM609.5,461.4h7.3v7.3h-7.3zM613.1,462.4h7.3v7.3h-7.3zM616.6,460.9h7.3v7.3h-7.3zM620.2,462.1h7.3v7.3h-7.3zM623.8,462.5h7.3v7.3h-7.3zM627.3,456.9h7.3v7.3h-7.3zM630.9,463.9h7.3v7.3h-7.3zM634.4,462.4h7.3v7.3h-7.3zM638,461.6h7.3v7.3h-7.3zM641.6,464.8h7.3v7.3h-7.3zM645.1,461.6h7.3v7.3h-7.3zM648.7,461.4h7.3v7.3h-7.3zM652.2,462.1h7.3v7.3h-7.3zM655.8,461.1h7.3v7.3h-7.3zM659.4,456.9h7.3v7.3h-7.3zM662.9,462.4h7.3v7.3h-7.3zM666.5,458.8h7.3v7.3h-7.3zM670,460h7.3v7.3h-7.3zM673.6,459.1h7.3v7.3h-7.3zM677.2,459.7h7.3v7.3h-7.3zM680.7,458.9h7.3v7.3h-7.3zM684.3,461h7.3v7.3h-7.3zM687.8,460.9h7.3v7.3h-7.3zM691.4,459.3h7.3v7.3h-7.3zM695,457.6h7.3v7.3h-7.3zM698.5,462h7.3v7.3h-7.3zM702.1,463.6h7.3v7.3h-7.3zM705.6,461.1h7.3v7.3h-7.3zM709.2,462.7h7.3v7.3h-7.3zM712.8,459.2h7.3v7.3h-7.3zM716.3,463.9h7.3v7.3h-7.3zM719.9,461.2h7.3v7.3h-7.3zM723.4,459.5h7.3v7.3h-7.3zM727,461.5h7.3v7.3h-7.3zM730.6,461.4h7.3v7.3h-7.3zM734.1,460h7.3v7.3h-7.3zM737.7,464.5h7.3v7.3h-7.3zM741.3,463.2h7.3v7.3h-7.3zM744.8,459.8h7.3v7.3h-7.3zM748.4,461.1h7.3v7.3h-7.3zM751.9,462.2h7.3v7.3h-7.3zM755.5,461.6h7.3v7.3h-7.3zM759.1,463.1h7.3v7.3h-7.3zM762.6,464h7.3v7.3h-7.3zM766.2,462.2h7.3v7.3h-7.3zM769.7,460.8h7.3v7.3h-7.3zM773.3,462.2h7.3v7.3h-7.3zM776.9,462.8h7.3v7.3h-7.3zM780.4,465.2h7.3v7.3h-7.3zM784,467h7.3v7.3h-7.3zM787.5,465h7.3v7.3h-7.3zM791.1,463.4h7.3v7.3h-7.3zM794.7,466.3h7.3v7.3h-7.3zM798.2,464.1h7.3v7.3h-7.3zM801.8,462.5h7.3v7.3h-7.3zM805.3,463.8h7.3v7.3h-7.3zM808.9,464.1h7.3v7.3h-7.3zM812.5,462.3h7.3v7.3h-7.3zM816,460.1h7.3v7.3h-7.3zM819.6,463.2h7.3v7.3h-7.3zM823.1,458.7h7.3v7.3h-7.3zM826.7,458.3h7.3v7.3h-7.3zM830.3,459.3h7.3v7.3h-7.3zM833.8,459.3h7.3v7.3h-7.3zM837.4,458.4h7.3v7.3h-7.3zM840.9,459h7.3v7.3h-7.3zM844.5,458.6h7.3v7.3h-7.3zM848.1,460.5h7.3v7.3h-7.3zM851.6,460.5h7.3v7.3h-7.3zM855.2,462.1h7.3v7.3h-7.3zM858.8,459.3h7.3v7.3h-7.3zM859.1,463.4h7.3v7.3h-7.3zM861.4,548.4h7.3v7.3h-7.3zM864,550.1h7.3v7.3h-7.3zM867.2,550.6h7.3v7.3h-7.3zM870.4,548.7h7.3v7.3h-7.3zM873.6,550.6h7.3v7.3h-7.3zM876.9,547.9h7.3v7.3h-7.3zM880.1,549.7h7.3v7.3h-7.3zM883.4,552.8h7.3v7.3h-7.3zM886.6,551.9h7.3v7.3h-7.3zM889.8,549.5h7.3v7.3h-7.3zM893.1,551.7h7.3v7.3h-7.3zM896.3,550.4h7.3v7.3h-7.3zM899.5,551.3h7.3v7.3h-7.3zM902.8,550.1h7.3v7.3h-7.3zM902.8,551.7h7.3v7.3h-7.3zM899.1,549.5h7.3v7.3h-7.3zM895.5,551.7h7.3v7.3h-7.3zM892,549h7.3v7.3h-7.3zM888.4,552.1h7.3v7.3h-7.3zM884.8,552h7.3v7.3h-7.3zM881.1,551.3h7.3v7.3h-7.3zM877.5,551.2h7.3v7.3h-7.3zM874,549.1h7.3v7.3h-7.3zM870.4,549.1h7.3v7.3h-7.3zM866.8,550.8h7.3v7.3h-7.3zM863.1,548.9h7.3v7.3h-7.3zM859.6,550.3h7.3v7.3h-7.3zM856,553.3h7.3v7.3h-7.3zM852.4,550.3h7.3v7.3h-7.3zM848.8,550.3h7.3v7.3h-7.3zM845.1,548h7.3v7.3h-7.3zM841.6,547.8h7.3v7.3h-7.3zM838,551.8h7.3v7.3h-7.3zM834.4,552.9h7.3v7.3h-7.3zM830.8,552h7.3v7.3h-7.3zM827.1,549.9h7.3v7.3h-7.3zM823.6,549.8h7.3v7.3h-7.3zM820,549.1h7.3v7.3h-7.3zM816.4,550.7h7.3v7.3h-7.3zM812.8,551.2h7.3v7.3h-7.3zM809.1,553.2h7.3v7.3h-7.3zM805.6,552.3h7.3v7.3h-7.3zM802,552.6h7.3v7.3h-7.3zM798.4,551.8h7.3v7.3h-7.3zM794.8,552.2h7.3v7.3h-7.3zM791.1,552.8h7.3v7.3h-7.3zM787.6,550.7h7.3v7.3h-7.3zM784,549h7.3v7.3h-7.3zM780.4,551.5h7.3v7.3h-7.3zM776.8,550h7.3v7.3h-7.3zM773.1,551.2h7.3v7.3h-7.3zM769.6,550.5h7.3v7.3h-7.3zM766,553.5h7.3v7.3h-7.3zM762.4,551.9h7.3v7.3h-7.3zM758.8,552.5h7.3v7.3h-7.3zM755.1,551.2h7.3v7.3h-7.3zM751.6,551h7.3v7.3h-7.3zM748,552.3h7.3v7.3h-7.3zM744.4,554h7.3v7.3h-7.3zM740.8,553.7h7.3v7.3h-7.3zM737.1,551.9h7.3v7.3h-7.3zM733.6,550.3h7.3v7.3h-7.3zM730,550.4h7.3v7.3h-7.3zM726.4,554.6h7.3v7.3h-7.3zM722.8,548.2h7.3v7.3h-7.3zM719.1,549.9h7.3v7.3h-7.3zM715.6,549.4h7.3v7.3h-7.3zM712,548.9h7.3v7.3h-7.3zM708.4,550h7.3v7.3h-7.3zM704.8,552.1h7.3v7.3h-7.3zM701.1,550.6h7.3v7.3h-7.3zM697.6,552.2h7.3v7.3h-7.3zM694,550h7.3v7.3h-7.3zM690.4,547.3h7.3v7.3h-7.3zM686.8,549.5h7.3v7.3h-7.3zM683.2,551.4h7.3v7.3h-7.3zM679.6,552.6h7.3v7.3h-7.3zM676,551.9h7.3v7.3h-7.3zM672.4,549.7h7.3v7.3h-7.3zM668.8,552.2h7.3v7.3h-7.3zM665.2,552.3h7.3v7.3h-7.3zM661.6,550.6h7.3v7.3h-7.3zM658,551.3h7.3v7.3h-7.3zM654.4,551.2h7.3v7.3h-7.3zM650.8,549.5h7.3v7.3h-7.3zM647.2,550h7.3v7.3h-7.3zM643.6,549.4h7.3v7.3h-7.3zM640,548.2h7.3v7.3h-7.3zM639.9,548.4h7.3v7.3h-7.3zM637.4,463.4h7.3v7.3h-7.3z" fill="#1080ff"/>
<polyline points="611.6,465.1 616.1,465 620.6,467.5 625.2,464.5 629.7,465.7 634.2,467.6 638.7,464.9 643.3,464.7 647.8,465.6 652.3,466.1 656.8,465.5 661.4,463.9 665.9,464.8 670.4,466.8 674.9,462.9 679.5,463.3 684,462.4 688.5,464.7 693,465.8 697.5,466.6 702.1,466.4 706.6,466.6 711.1,465.9 715.6,465.5 720.2,465.4 724.7,463.7 729.2,463.8 733.7,466.6 738.3,465.8 742.8,464.2 747.3,465 751.8,466.9 756.4,463.8 760.9,465.2 765.4,463.8 769.9,464.8 774.5,466 779,465.3 783.5,467.3 788,473 792.5,472.8 797.1,470 801.6,470.4 806.1,466.4 810.6,468 815.2,466.6 819.7,462.8 824.5,453.5 829,472.5 833.3,460.9 837.8,463.9 842.3,460.2 846,455 851.4,461 855.9,465.6 860.4,465.7" fill="none" stroke="#1080ff" stroke-width="1.8" stroke-linejoin="round"/>
<path d="M608,461.5h7.3v7.3h-7.3zM612.5,461.4h7.3v7.3h-7.3zM617,463.8h7.3v7.3h-7.3zM621.5,460.9h7.3v7.3h-7.3zM626,462.1h7.3v7.3h-7.3zM630.6,464h7.3v7.3h-7.3zM635.1,461.3h7.3v7.3h-7.3zM639.6,461.1h7.3v7.3h-7.3zM644.1,461.9h7.3v7.3h-7.3zM648.7,462.4h7.3v7.3h-7.3zM653.2,461.8h7.3v7.3h-7.3zM657.7,460.2h7.3v7.3h-7.3zM662.2,461.2h7.3v7.3h-7.3zM666.8,463.1h7.3v7.3h-7.3zM671.3,459.2h7.3v7.3h-7.3zM675.8,459.7h7.3v7.3h-7.3zM680.3,458.8h7.3v7.3h-7.3zM684.9,461h7.3v7.3h-7.3zM689.4,462.2h7.3v7.3h-7.3zM693.9,463h7.3v7.3h-7.3zM698.4,462.7h7.3v7.3h-7.3zM702.9,462.9h7.3v7.3h-7.3zM707.5,462.3h7.3v7.3h-7.3zM712,461.8h7.3v7.3h-7.3zM716.5,461.8h7.3v7.3h-7.3zM721,460.1h7.3v7.3h-7.3zM725.6,460.1h7.3v7.3h-7.3zM730.1,462.9h7.3v7.3h-7.3zM734.6,462.1h7.3v7.3h-7.3zM739.1,460.5h7.3v7.3h-7.3zM743.7,461.3h7.3v7.3h-7.3zM748.2,463.3h7.3v7.3h-7.3zM752.7,460.2h7.3v7.3h-7.3zM757.2,461.5h7.3v7.3h-7.3zM761.8,460.2h7.3v7.3h-7.3zM766.3,461.1h7.3v7.3h-7.3zM770.8,462.4h7.3v7.3h-7.3zM775.3,461.6h7.3v7.3h-7.3zM779.8,463.7h7.3v7.3h-7.3zM784.4,469.4h7.3v7.3h-7.3zM788.9,469.1h7.3v7.3h-7.3zM793.4,466.4h7.3v7.3h-7.3zM797.9,466.7h7.3v7.3h-7.3zM802.5,462.8h7.3v7.3h-7.3zM807,464.3h7.3v7.3h-7.3zM811.5,463h7.3v7.3h-7.3zM816,459.1h7.3v7.3h-7.3zM820.9,449.9h7.3v7.3h-7.3zM825.4,468.9h7.3v7.3h-7.3zM829.6,457.2h7.3v7.3h-7.3zM834.1,460.3h7.3v7.3h-7.3zM838.7,456.5h7.3v7.3h-7.3zM842.4,451.4h7.3v7.3h-7.3zM847.7,457.4h7.3v7.3h-7.3zM852.2,461.9h7.3v7.3h-7.3zM856.8,462h7.3v7.3h-7.3z" fill="#1080ff"/>
<polyline points="645.6,552.3 650.1,552 654.7,555.6 659.2,553.4 663.8,556 668.3,554.5 672.8,553.5 677.4,555.3 681.9,557.3 686.5,554.3 691,554.9 695.5,554.6 700.1,554.1 704.6,555.2 709.2,556.4 713.7,554 718.2,551.8 722.8,548.6 727.3,554.9 731.9,552.3 736.4,555.9 740.9,554.5 745.5,556.3 750,555.3 754.6,561 759.1,555.4 763.6,557.7 768.2,555 772.7,556.2 777.3,556 781.8,557.4 786.4,554.9 790.9,558.1 795.4,556.9 800,558.3 804.5,556.3 809.1,555 813.6,558 818.1,553.9 824.5,545.5 827.2,552.9 831,562 836.3,555.8 840.8,554.5 845.4,557.5 849.9,553.1 854.5,557.1 859,552.6 863.5,554.7 868.1,554.6 872.6,554.6 877.2,554.5 881.7,553.7 887,548.5 890.8,554.2 895.3,553.7 899.9,554.3 904.4,556" fill="none" stroke="#1080ff" stroke-width="1.8" stroke-linejoin="round"/>
<path d="M642,548.6h7.3v7.3h-7.3zM646.5,548.4h7.3v7.3h-7.3zM651,551.9h7.3v7.3h-7.3zM655.6,549.8h7.3v7.3h-7.3zM660.1,552.4h7.3v7.3h-7.3zM664.7,550.9h7.3v7.3h-7.3zM669.2,549.9h7.3v7.3h-7.3zM673.7,551.7h7.3v7.3h-7.3zM678.3,553.7h7.3v7.3h-7.3zM682.8,550.7h7.3v7.3h-7.3zM687.4,551.3h7.3v7.3h-7.3zM691.9,550.9h7.3v7.3h-7.3zM696.4,550.4h7.3v7.3h-7.3zM701,551.5h7.3v7.3h-7.3zM705.5,552.8h7.3v7.3h-7.3zM710.1,550.3h7.3v7.3h-7.3zM714.6,548.2h7.3v7.3h-7.3zM719.1,544.9h7.3v7.3h-7.3zM723.7,551.3h7.3v7.3h-7.3zM728.2,548.7h7.3v7.3h-7.3zM732.8,552.2h7.3v7.3h-7.3zM737.3,550.8h7.3v7.3h-7.3zM741.8,552.7h7.3v7.3h-7.3zM746.4,551.7h7.3v7.3h-7.3zM750.9,557.4h7.3v7.3h-7.3zM755.5,551.8h7.3v7.3h-7.3zM760,554.1h7.3v7.3h-7.3zM764.5,551.3h7.3v7.3h-7.3zM769.1,552.5h7.3v7.3h-7.3zM773.6,552.3h7.3v7.3h-7.3zM778.2,553.8h7.3v7.3h-7.3zM782.7,551.2h7.3v7.3h-7.3zM787.2,554.5h7.3v7.3h-7.3zM791.8,553.2h7.3v7.3h-7.3zM796.3,554.6h7.3v7.3h-7.3zM800.9,552.6h7.3v7.3h-7.3zM805.4,551.3h7.3v7.3h-7.3zM809.9,554.3h7.3v7.3h-7.3zM814.5,550.2h7.3v7.3h-7.3zM820.9,541.9h7.3v7.3h-7.3zM823.6,549.2h7.3v7.3h-7.3zM827.4,558.4h7.3v7.3h-7.3zM832.6,552.1h7.3v7.3h-7.3zM837.2,550.9h7.3v7.3h-7.3zM841.7,553.8h7.3v7.3h-7.3zM846.3,549.4h7.3v7.3h-7.3zM850.8,553.5h7.3v7.3h-7.3zM855.3,548.9h7.3v7.3h-7.3zM859.9,551h7.3v7.3h-7.3zM864.4,550.9h7.3v7.3h-7.3zM869,551h7.3v7.3h-7.3zM873.5,550.9h7.3v7.3h-7.3zM878,550.1h7.3v7.3h-7.3zM883.4,544.9h7.3v7.3h-7.3zM887.1,550.6h7.3v7.3h-7.3zM891.7,550.1h7.3v7.3h-7.3zM896.2,550.7h7.3v7.3h-7.3zM900.8,552.4h7.3v7.3h-7.3z" fill="#1080ff"/>
<polyline points="609.6,602.6 613.2,603.7 616.8,601 620.5,600.5 624.1,605.4 627.7,603.6 631.3,601.2 634.9,602.8 638.5,601.6 642.2,601.2 645.8,601.1 649.4,600.1 653,599.7 656.6,601 660.2,603.1 663.9,602.4 667.5,602.6 671.1,600.5 674.7,600.7 678.3,599.5 681.9,602.1 685.6,602.4 689.2,602 692.8,602.7 696.4,601.5 700,601.7 703.6,603.7 707.3,601.9 710.9,607 714.5,604.6 718.1,601.4 721.7,601.7 725.3,604.5 729,603.4 732.6,603.9 736.2,604.1 739.8,601.9 743.4,604.9 747,604.2 750.7,603.4 754.3,601.8 757.9,600.1 761.5,598.9 765.1,597.8 768.7,598.9 772.4,597.4 776,601.6 779.6,601.1 783.2,596.3 786.8,602 790.4,599 794.1,600.9 797.7,602.3 801.3,600.3 804.9,604.4 808.5,603.4 812.1,605.2 815.8,603.2 819.4,602.2 823,602.5 826.6,603.1 830.2,599.9 833.8,602.6 837.5,602.8 841.1,602.4 844.7,601.5 848.3,601.6 851.9,598.9 855.5,600 859.2,601.2 862.8,603.3 866.4,602.5 866,604 868.6,697 870.6,699.6 873.9,697.5 877.1,699 880.4,699.6 883.6,698.5 886.9,699.4 890.1,697.4 893.4,695.9 896.6,700.2 899.9,699.3 903.1,699.5 906.4,696 906.4,702.2 902.8,695 899.2,700.7 895.5,695.5 891.9,701.6 888.3,699.5 884.7,700 881.1,699 877.5,698.5 873.8,698 870.2,698.5 866.6,697.9 863,697.2 859.4,701.5 855.8,701 852.1,699.9 848.5,701.1 844.9,700 841.3,698.4 837.7,700.8 834.1,699.6 830.4,699.6 826.8,699.7 823.2,700 819.6,700.2 816,699.8 812.4,700.1 808.7,700.4 805.1,698.5 801.5,696.8 797.9,700.7 794.3,700.3 790.7,698.6 787,697.8 783.4,700.8 779.8,699.2 776.2,698.9 772.6,697.7 769,695.9 765.3,699.9 761.7,697.8 758.1,695.1 754.5,698.3 750.9,697.6 747.3,700.4 743.6,700 740,697.5 736.4,699.4 732.8,701.4 729.2,699.5 725.6,703.8 721.9,699.5 718.3,704 714.7,699.4 711.1,698.9 707.5,698.1 703.9,703.2 700.2,699.4 696.6,700.9 693,700.4 689.4,697 685.8,697.9 682.2,698.6 678.5,697.4 674.9,698.7 671.3,699.1 667.7,696.5 664.1,700.5 660.5,699 656.8,698.6 653.2,701 649.6,698.5 649.7,697 647.3,604" fill="none" stroke="#9a08ff" stroke-width="1.8" stroke-linejoin="round"/>
<path d="M606,599h7.3v7.3h-7.3zM609.6,600h7.3v7.3h-7.3zM613.2,597.4h7.3v7.3h-7.3zM616.8,596.8h7.3v7.3h-7.3zM620.4,601.7h7.3v7.3h-7.3zM624,600h7.3v7.3h-7.3zM627.7,597.5h7.3v7.3h-7.3zM631.3,599.2h7.3v7.3h-7.3zM634.9,597.9h7.3v7.3h-7.3zM638.5,597.5h7.3v7.3h-7.3zM642.1,597.5h7.3v7.3h-7.3zM645.7,596.5h7.3v7.3h-7.3zM649.4,596.1h7.3v7.3h-7.3zM653,597.3h7.3v7.3h-7.3zM656.6,599.5h7.3v7.3h-7.3zM660.2,598.7h7.3v7.3h-7.3zM663.8,598.9h7.3v7.3h-7.3zM667.4,596.9h7.3v7.3h-7.3zM671.1,597.1h7.3v7.3h-7.3zM674.7,595.9h7.3v7.3h-7.3zM678.3,598.5h7.3v7.3h-7.3zM681.9,598.7h7.3v7.3h-7.3zM685.5,598.3h7.3v7.3h-7.3zM689.1,599.1h7.3v7.3h-7.3zM692.8,597.9h7.3v7.3h-7.3zM696.4,598.1h7.3v7.3h-7.3zM700,600h7.3v7.3h-7.3zM703.6,598.2h7.3v7.3h-7.3zM707.2,603.4h7.3v7.3h-7.3zM710.8,601h7.3v7.3h-7.3zM714.5,597.8h7.3v7.3h-7.3zM718.1,598h7.3v7.3h-7.3zM721.7,600.9h7.3v7.3h-7.3zM725.3,599.8h7.3v7.3h-7.3zM728.9,600.3h7.3v7.3h-7.3zM732.5,600.4h7.3v7.3h-7.3zM736.2,598.3h7.3v7.3h-7.3zM739.8,601.3h7.3v7.3h-7.3zM743.4,600.5h7.3v7.3h-7.3zM747,599.7h7.3v7.3h-7.3zM750.6,598.2h7.3v7.3h-7.3zM754.2,596.5h7.3v7.3h-7.3zM757.9,595.2h7.3v7.3h-7.3zM761.5,594.2h7.3v7.3h-7.3zM765.1,595.2h7.3v7.3h-7.3zM768.7,593.7h7.3v7.3h-7.3zM772.3,598h7.3v7.3h-7.3zM775.9,597.5h7.3v7.3h-7.3zM779.6,592.6h7.3v7.3h-7.3zM783.2,598.4h7.3v7.3h-7.3zM786.8,595.4h7.3v7.3h-7.3zM790.4,597.2h7.3v7.3h-7.3zM794,598.7h7.3v7.3h-7.3zM797.6,596.7h7.3v7.3h-7.3zM801.3,600.8h7.3v7.3h-7.3zM804.9,599.8h7.3v7.3h-7.3zM808.5,601.6h7.3v7.3h-7.3zM812.1,599.5h7.3v7.3h-7.3zM815.7,598.6h7.3v7.3h-7.3zM819.3,598.8h7.3v7.3h-7.3zM823,599.4h7.3v7.3h-7.3zM826.6,596.3h7.3v7.3h-7.3zM830.2,599h7.3v7.3h-7.3zM833.8,599.1h7.3v7.3h-7.3zM837.4,598.7h7.3v7.3h-7.3zM841,597.9h7.3v7.3h-7.3zM844.7,598h7.3v7.3h-7.3zM848.3,595.3h7.3v7.3h-7.3zM851.9,596.3h7.3v7.3h-7.3zM855.5,597.6h7.3v7.3h-7.3zM859.1,599.6h7.3v7.3h-7.3zM862.8,598.8h7.3v7.3h-7.3zM862.4,600.4h7.3v7.3h-7.3zM865,693.4h7.3v7.3h-7.3zM867,695.9h7.3v7.3h-7.3zM870.2,693.8h7.3v7.3h-7.3zM873.5,695.3h7.3v7.3h-7.3zM876.7,695.9h7.3v7.3h-7.3zM880,694.8h7.3v7.3h-7.3zM883.2,695.8h7.3v7.3h-7.3zM886.5,693.8h7.3v7.3h-7.3zM889.7,692.3h7.3v7.3h-7.3zM893,696.5h7.3v7.3h-7.3zM896.2,695.6h7.3v7.3h-7.3zM899.5,695.8h7.3v7.3h-7.3zM902.8,692.4h7.3v7.3h-7.3zM902.8,698.5h7.3v7.3h-7.3zM899.1,691.4h7.3v7.3h-7.3zM895.5,697h7.3v7.3h-7.3zM891.9,691.8h7.3v7.3h-7.3zM888.3,698h7.3v7.3h-7.3zM884.7,695.9h7.3v7.3h-7.3zM881,696.4h7.3v7.3h-7.3zM877.4,695.4h7.3v7.3h-7.3zM873.8,694.8h7.3v7.3h-7.3zM870.2,694.4h7.3v7.3h-7.3zM866.6,694.8h7.3v7.3h-7.3zM863,694.3h7.3v7.3h-7.3zM859.3,693.5h7.3v7.3h-7.3zM855.7,697.8h7.3v7.3h-7.3zM852.1,697.4h7.3v7.3h-7.3zM848.5,696.3h7.3v7.3h-7.3zM844.9,697.5h7.3v7.3h-7.3zM841.3,696.4h7.3v7.3h-7.3zM837.6,694.8h7.3v7.3h-7.3zM834,697.1h7.3v7.3h-7.3zM830.4,696h7.3v7.3h-7.3zM826.8,695.9h7.3v7.3h-7.3zM823.2,696.1h7.3v7.3h-7.3zM819.6,696.4h7.3v7.3h-7.3zM815.9,696.6h7.3v7.3h-7.3zM812.3,696.1h7.3v7.3h-7.3zM808.7,696.4h7.3v7.3h-7.3zM805.1,696.7h7.3v7.3h-7.3zM801.5,694.9h7.3v7.3h-7.3zM797.9,693.2h7.3v7.3h-7.3zM794.2,697h7.3v7.3h-7.3zM790.6,696.7h7.3v7.3h-7.3zM787,694.9h7.3v7.3h-7.3zM783.4,694.2h7.3v7.3h-7.3zM779.8,697.1h7.3v7.3h-7.3zM776.2,695.6h7.3v7.3h-7.3zM772.5,695.3h7.3v7.3h-7.3zM768.9,694.1h7.3v7.3h-7.3zM765.3,692.3h7.3v7.3h-7.3zM761.7,696.3h7.3v7.3h-7.3zM758.1,694.2h7.3v7.3h-7.3zM754.5,691.4h7.3v7.3h-7.3zM750.8,694.7h7.3v7.3h-7.3zM747.2,694h7.3v7.3h-7.3zM743.6,696.7h7.3v7.3h-7.3zM740,696.4h7.3v7.3h-7.3zM736.4,693.8h7.3v7.3h-7.3zM732.8,695.7h7.3v7.3h-7.3zM729.1,697.7h7.3v7.3h-7.3zM725.5,695.9h7.3v7.3h-7.3zM721.9,700.2h7.3v7.3h-7.3zM718.3,695.9h7.3v7.3h-7.3zM714.7,700.4h7.3v7.3h-7.3zM711.1,695.7h7.3v7.3h-7.3zM707.4,695.3h7.3v7.3h-7.3zM703.8,694.4h7.3v7.3h-7.3zM700.2,699.5h7.3v7.3h-7.3zM696.6,695.8h7.3v7.3h-7.3zM693,697.3h7.3v7.3h-7.3zM689.4,696.8h7.3v7.3h-7.3zM685.7,693.4h7.3v7.3h-7.3zM682.1,694.3h7.3v7.3h-7.3zM678.5,695h7.3v7.3h-7.3zM674.9,693.7h7.3v7.3h-7.3zM671.3,695.1h7.3v7.3h-7.3zM667.7,695.5h7.3v7.3h-7.3zM664,692.9h7.3v7.3h-7.3zM660.4,696.8h7.3v7.3h-7.3zM656.8,695.4h7.3v7.3h-7.3zM653.2,695h7.3v7.3h-7.3zM649.6,697.3h7.3v7.3h-7.3zM646,694.9h7.3v7.3h-7.3zM646.1,693.4h7.3v7.3h-7.3zM643.6,600.4h7.3v7.3h-7.3z" fill="#9a08ff"/>
<polyline points="611.6,603 616.2,601.5 620.8,602 625.4,603.1 630,603.8 634.6,602.9 639.2,606.2 643.8,602.1 648.4,599.6 653,599.7 657.6,600.3 662.2,602.8 666.8,602.8 671.4,602.3 675.9,601.3 680.5,600.7 685.1,601.9 689.7,602.9 694.3,603.2 698.9,607.7 703.5,604.6 708.1,602.3 712.7,603.7 717.3,604.9 721.9,601.6 726.5,603.2 731.1,603.1 735.7,601.8 740.3,601.9 744.9,602.9 749.5,602.2 754.1,598.4 758.7,601.4 763.3,597.7 767.9,600.4 772.5,600.5 777.1,601.2 781.7,603.3 786.3,601.2 790.9,600.6 795.5,602 800.1,602.5 804.6,599.5 809.2,599.5 813.8,603 818.4,606.8 823,603 827.6,603 832.2,601.9 836.8,601.1 841.4,602.8 846,601.1 850.6,603.2 855.2,600.3 859.8,603 864.4,602.4" fill="none" stroke="#9a08ff" stroke-width="1.8" stroke-linejoin="round"/>
<path d="M608,599.4h7.3v7.3h-7.3zM612.5,597.8h7.3v7.3h-7.3zM617.1,598.3h7.3v7.3h-7.3zM621.7,599.5h7.3v7.3h-7.3zM626.3,600.1h7.3v7.3h-7.3zM630.9,599.2h7.3v7.3h-7.3zM635.5,602.6h7.3v7.3h-7.3zM640.1,598.4h7.3v7.3h-7.3zM644.7,596h7.3v7.3h-7.3zM649.3,596.1h7.3v7.3h-7.3zM653.9,596.6h7.3v7.3h-7.3zM658.5,599.1h7.3v7.3h-7.3zM663.1,599.2h7.3v7.3h-7.3zM667.7,598.6h7.3v7.3h-7.3zM672.3,597.7h7.3v7.3h-7.3zM676.9,597h7.3v7.3h-7.3zM681.5,598.3h7.3v7.3h-7.3zM686.1,599.2h7.3v7.3h-7.3zM690.7,599.5h7.3v7.3h-7.3zM695.3,604h7.3v7.3h-7.3zM699.9,601h7.3v7.3h-7.3zM704.5,598.6h7.3v7.3h-7.3zM709.1,600h7.3v7.3h-7.3zM713.7,601.2h7.3v7.3h-7.3zM718.3,597.9h7.3v7.3h-7.3zM722.9,599.5h7.3v7.3h-7.3zM727.5,599.4h7.3v7.3h-7.3zM732.1,598.1h7.3v7.3h-7.3zM736.6,598.2h7.3v7.3h-7.3zM741.2,599.3h7.3v7.3h-7.3zM745.8,598.6h7.3v7.3h-7.3zM750.4,594.7h7.3v7.3h-7.3zM755,597.7h7.3v7.3h-7.3zM759.6,594h7.3v7.3h-7.3zM764.2,596.8h7.3v7.3h-7.3zM768.8,596.8h7.3v7.3h-7.3zM773.4,597.5h7.3v7.3h-7.3zM778,599.7h7.3v7.3h-7.3zM782.6,597.6h7.3v7.3h-7.3zM787.2,596.9h7.3v7.3h-7.3zM791.8,598.3h7.3v7.3h-7.3zM796.4,598.8h7.3v7.3h-7.3zM801,595.8h7.3v7.3h-7.3zM805.6,595.9h7.3v7.3h-7.3zM810.2,599.3h7.3v7.3h-7.3zM814.8,603.2h7.3v7.3h-7.3zM819.4,599.3h7.3v7.3h-7.3zM824,599.4h7.3v7.3h-7.3zM828.6,598.3h7.3v7.3h-7.3zM833.2,597.4h7.3v7.3h-7.3zM837.8,599.2h7.3v7.3h-7.3zM842.4,597.4h7.3v7.3h-7.3zM847,599.6h7.3v7.3h-7.3zM851.6,596.7h7.3v7.3h-7.3zM856.2,599.4h7.3v7.3h-7.3zM860.8,598.8h7.3v7.3h-7.3z" fill="#9a08ff"/>
<polyline points="651.6,700.9 656.2,699.6 660.8,695.8 665.4,698.3 670,698.7 674.6,701.4 679.2,699.7 683.8,698.9 688.4,699.4 693,698.3 697.6,700.7 702.2,699.9 706.8,698.9 711.4,698.3 715.9,698.9 720.5,701.3 725.1,701.3 729.7,699.7 734.3,699.9 738.9,702 743.5,698.9 748.1,701.5 752.7,699.5 757.3,697.4 761.9,698.2 766.5,693.3 771.1,700.2 775.7,701 780.3,700.1 784.9,700.1 789.5,696.3 794.1,698.2 798.7,697.5 803.3,698 807.9,700.1 812.5,702.2 817.1,698.3 821.7,695.8 826.3,698.6 830.9,699.7 835.5,697.9 840.1,699 844.6,700.3 849.2,699.9 853.8,700.1 858.4,699.1 863,699 867.6,695.2 872.2,699.5 876.8,700 881.4,698.9 886,699.7 890.6,700.5 895.2,699.5 899.8,700.1 904.4,697.5" fill="none" stroke="#9a08ff" stroke-width="1.8" stroke-linejoin="round"/>
<path d="M648,697.3h7.3v7.3h-7.3zM652.5,695.9h7.3v7.3h-7.3zM657.1,692.1h7.3v7.3h-7.3zM661.7,694.6h7.3v7.3h-7.3zM666.3,695.1h7.3v7.3h-7.3zM670.9,697.7h7.3v7.3h-7.3zM675.5,696.1h7.3v7.3h-7.3zM680.1,695.2h7.3v7.3h-7.3zM684.7,695.8h7.3v7.3h-7.3zM689.3,694.6h7.3v7.3h-7.3zM693.9,697h7.3v7.3h-7.3zM698.5,696.2h7.3v7.3h-7.3zM703.1,695.3h7.3v7.3h-7.3zM707.7,694.7h7.3v7.3h-7.3zM712.3,695.2h7.3v7.3h-7.3zM716.9,697.7h7.3v7.3h-7.3zM721.5,697.6h7.3v7.3h-7.3zM726.1,696h7.3v7.3h-7.3zM730.7,696.2h7.3v7.3h-7.3zM735.3,698.4h7.3v7.3h-7.3zM739.9,695.3h7.3v7.3h-7.3zM744.5,697.9h7.3v7.3h-7.3zM749.1,695.9h7.3v7.3h-7.3zM753.7,693.7h7.3v7.3h-7.3zM758.3,694.6h7.3v7.3h-7.3zM762.9,689.7h7.3v7.3h-7.3zM767.5,696.6h7.3v7.3h-7.3zM772.1,697.4h7.3v7.3h-7.3zM776.6,696.4h7.3v7.3h-7.3zM781.2,696.5h7.3v7.3h-7.3zM785.8,692.6h7.3v7.3h-7.3zM790.4,694.6h7.3v7.3h-7.3zM795,693.9h7.3v7.3h-7.3zM799.6,694.3h7.3v7.3h-7.3zM804.2,696.4h7.3v7.3h-7.3zM808.8,698.5h7.3v7.3h-7.3zM813.4,694.6h7.3v7.3h-7.3zM818,692.1h7.3v7.3h-7.3zM822.6,695h7.3v7.3h-7.3zM827.2,696.1h7.3v7.3h-7.3zM831.8,694.2h7.3v7.3h-7.3zM836.4,695.3h7.3v7.3h-7.3zM841,696.7h7.3v7.3h-7.3zM845.6,696.2h7.3v7.3h-7.3zM850.2,696.5h7.3v7.3h-7.3zM854.8,695.5h7.3v7.3h-7.3zM859.4,695.3h7.3v7.3h-7.3zM864,691.5h7.3v7.3h-7.3zM868.6,695.8h7.3v7.3h-7.3zM873.2,696.3h7.3v7.3h-7.3zM877.8,695.3h7.3v7.3h-7.3zM882.4,696h7.3v7.3h-7.3zM887,696.8h7.3v7.3h-7.3zM891.6,695.9h7.3v7.3h-7.3zM896.2,696.4h7.3v7.3h-7.3zM900.8,693.8h7.3v7.3h-7.3z" fill="#9a08ff"/>
<g stroke="#000" fill="none">
<rect x="20.8" y="54.8" width="465.7" height="659.6" stroke-width="5"/>
<line x1="129.0" y1="55" x2="129.0" y2="62.8" stroke-width="4.6"/>
<line x1="129.0" y1="706.4" x2="129.0" y2="714" stroke-width="4.6"/>
<line x1="253.3" y1="55" x2="253.3" y2="62.8" stroke-width="4.6"/>
<line x1="253.3" y1="706.4" x2="253.3" y2="714" stroke-width="4.6"/>
<line x1="377.4" y1="55" x2="377.4" y2="62.8" stroke-width="4.6"/>
<line x1="377.4" y1="706.4" x2="377.4" y2="714" stroke-width="4.6"/>
<line x1="67.0" y1="710.2" x2="67.0" y2="714" stroke-width="4"/>
<line x1="191.4" y1="710.2" x2="191.4" y2="714" stroke-width="4"/>
<line x1="315.3" y1="710.2" x2="315.3" y2="714" stroke-width="4"/>
<line x1="439.8" y1="710.2" x2="439.8" y2="714" stroke-width="4"/>
<rect x="525.7" y="55.7" width="467.7" height="660.7" stroke-width="4.7"/>
<line x1="603.8" y1="56" x2="603.8" y2="63.2" stroke-width="4.2"/>
<line x1="682.0" y1="56" x2="682.0" y2="63.2" stroke-width="4.2"/>
<line x1="759.4" y1="56" x2="759.4" y2="63.2" stroke-width="4.2"/>
<line x1="836.6" y1="56" x2="836.6" y2="63.2" stroke-width="4.2"/>
<line x1="914.5" y1="56" x2="914.5" y2="63.2" stroke-width="4.2"/>
<line x1="563.7" y1="56" x2="563.7" y2="60.2" stroke-width="4"/>
<line x1="643.0" y1="56" x2="643.0" y2="60.2" stroke-width="4"/>
<line x1="720.4" y1="56" x2="720.4" y2="60.2" stroke-width="4"/>
<line x1="798.0" y1="56" x2="798.0" y2="60.2" stroke-width="4"/>
<line x1="875.4" y1="56" x2="875.4" y2="60.2" stroke-width="4"/>
<line x1="953.6" y1="56" x2="953.6" y2="60.2" stroke-width="4"/>
<line x1="635.3" y1="709" x2="635.3" y2="716" stroke-width="4.4"/>
<line x1="759.5" y1="709" x2="759.5" y2="716" stroke-width="4.4"/>
<line x1="884.0" y1="709" x2="884.0" y2="716" stroke-width="4.4"/>
</g>
<g transform="translate(272.9,110.8)">
<path d="M0,0 C-30,3.2 -44.4,13 -44.4,23 C-44.4,33 -32,40.2 -13,40.7" fill="none" stroke="#000" stroke-width="2.7" stroke-linecap="butt"/>
<path d="M-16.6,32.6 L0.2,39.4 L-14.8,49.6 Z" fill="#000"/>
</g>
<g transform="translate(279,245)">
<path d="M0,0 C-30,3.2 -44.4,13 -44.4,23 C-44.4,33 -32,40.2 -13,40.7" fill="none" stroke="#000" stroke-width="2.7" stroke-linecap="butt"/>
<path d="M-16.6,32.6 L0.2,39.4 L-14.8,49.6 Z" fill="#000"/>
</g>
<g transform="translate(243.8,460)">
<path d="M0,0 C18,-3.2 43.8,-3 43.8,11.5 C43.8,22 30,31 13,34.4" fill="none" stroke="#000" stroke-width="2.9" stroke-linecap="butt"/>
<path d="M16.8,28.4 L-1,35 L15,45.8 Z" fill="#000"/>
</g>
<g transform="translate(243.8,625)">
<path d="M0,0 C18,-3.2 43.8,-3 43.8,11.5 C43.8,22 30,31 13,34.4" fill="none" stroke="#000" stroke-width="2.9" stroke-linecap="butt"/>
<path d="M16.8,28.4 L-1,35 L15,45.8 Z" fill="#000"/>
</g>
<g transform="translate(779.3,98.4)">
<path d="M0,0 C-30,3.2 -44.4,13 -44.4,23 C-44.4,33 -32,40.2 -13,40.7" fill="none" stroke="#000" stroke-width="2.7" stroke-linecap="butt"/>
<path d="M-16.6,32.6 L0.2,39.4 L-14.8,49.6 Z" fill="#000"/>
</g>
<g transform="translate(741.7,235.8)">
<path d="M0,0 C21,-3.2 51.2,-3 51.2,10.8 C51.2,20.7 35.1,29.1 13,32.3" fill="none" stroke="#000" stroke-width="2.4" stroke-linecap="butt"/>
<path d="M15.1,27 L-1,32.9 L13.5,42.6 Z" fill="#000"/>
</g>
<g transform="translate(741,370.5)">
<path d="M0,0 C20.7,-3.2 50.5,-3 50.5,10.8 C50.5,20.7 34.6,29.1 13,32.3" fill="none" stroke="#000" stroke-width="2.4" stroke-linecap="butt"/>
<path d="M15.1,27 L-1,32.9 L13.5,42.6 Z" fill="#000"/>
</g>
<g transform="translate(740,498)">
<path d="M0,0 C20.7,-3.2 50.5,-3 50.5,10.8 C50.5,20.7 34.6,29.1 13,32.3" fill="none" stroke="#000" stroke-width="2.4" stroke-linecap="butt"/>
<path d="M15.1,27 L-1,32.9 L13.5,42.6 Z" fill="#000"/>
</g>
<g transform="translate(741,635.5)">
<path d="M0,0 C20.7,-3.2 50.5,-3 50.5,11 C50.5,21.1 34.6,29.7 13,33" fill="none" stroke="#000" stroke-width="2.4" stroke-linecap="butt"/>
<path d="M15.1,27.7 L-1,33.6 L13.5,43.3 Z" fill="#000"/>
</g>
<text class="sans" x="-1.1" y="29.0" font-size="32.8">(a)</text>
<text class="sans" x="503.1" y="29.4" font-size="33.2">(b)</text>
<text class="ttl" x="166.6" y="26.7">flat substrate</text>
<text class="ttl" x="660.6" y="26.5">vicinal substrate</text>
<text class="lab" x="25.6" y="138.3" style="fill:#ff0000">10 Oe</text>
<text class="lab" x="28.8" y="279.3" style="fill:#ff660a">5 Oe</text>
<text class="lab" x="26.5" y="378.6" style="fill:#0cff0c">0 Oe</text>
<text class="lab" x="24.9" y="493.3" style="fill:#1080ff">-5 Oe</text>
<text class="lab" x="22.9" y="652.8" style="fill:#9a08ff">-10 Oe</text>
<text class="labb" text-anchor="end" x="988.4" y="134" style="fill:#ff0000;font-size:34px">10 Oe</text>
<text class="labb" text-anchor="end" x="984.8" y="257.1" style="fill:#ff660a;font-size:34px">5 Oe</text>
<text class="labb" text-anchor="end" x="984.7" y="394.5" style="fill:#0cff0c;font-size:31px">0 Oe</text>
<text class="labb" text-anchor="end" x="985.8" y="519.5" style="fill:#1080ff;font-size:34px">-5 Oe</text>
<text class="labb" text-anchor="end" x="987.2" y="664.5" style="fill:#9a08ff;font-size:34px">-10 Oe</text>
<text class="tick" text-anchor="middle" x="128.0" y="752.9">-1</text>
<text class="tick" text-anchor="middle" x="253.5" y="752.9">0</text>
<text class="tick" text-anchor="middle" x="377.2" y="752.9">1</text>
<text class="tick" text-anchor="middle" x="633.0" y="752" style="font-size:34px">-1</text>
<text class="tick" text-anchor="middle" x="759.4" y="752" style="font-size:34px">0</text>
<text class="tick" text-anchor="middle" x="884.0" y="752" style="font-size:34px">1</text>
<text class="xl" x="141.4" y="806.9" font-style="italic">J</text>
<text x="159.8" y="817.3" font-size="30">c</text>
<text class="xl" x="193.2" y="806.9">(10<tspan font-size="27" dy="-17" dx="1">11</tspan><tspan dy="17" dx="3.4" letter-spacing="-0.25"> A/m</tspan><tspan font-size="27" dy="-17" dx="0.2">2</tspan><tspan dy="17" dx="-0.3">)</tspan></text>
<text class="xl" x="649" y="802.5" font-style="italic">J</text>
<text x="667.4" y="812.9" font-size="30">c</text>
<text class="xl" x="694.3" y="802.5">(10<tspan font-size="27" dy="-17" dx="1">11</tspan><tspan dy="17" dx="3.4" letter-spacing="-0.25"> A/m</tspan><tspan font-size="27" dy="-17" dx="0.2">2</tspan><tspan dy="17" dx="-0.3">)</tspan></text>
</svg>
</body></html>
